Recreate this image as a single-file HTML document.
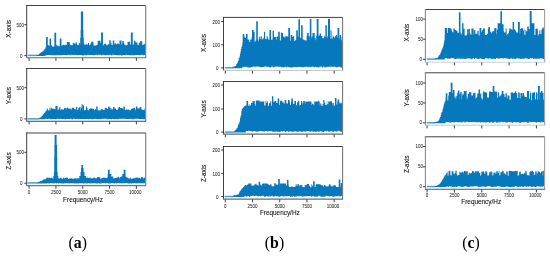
<!DOCTYPE html>
<html><head><meta charset="utf-8"><style>
html,body{margin:0;padding:0;background:#fff;}
body{width:550px;height:257px;overflow:hidden;}
svg{display:block;}
.tl,.tlc{font-family:"Liberation Sans",Arial,sans-serif;font-size:4.5px;fill:#2a2a2a;stroke:#2a2a2a;stroke-width:0.04px;}
.tlc{font-size:4.5px;}
.al{font-family:"Liberation Sans",Arial,sans-serif;font-size:6.4px;fill:#111;stroke:#111;stroke-width:0.08px;}
.cap{font-family:"Liberation Serif","Times New Roman",serif;font-size:15.8px;fill:#000;}
</style></head><body>
<svg width="550" height="257" viewBox="0 0 550 257">
<rect width="550" height="257" fill="#fff"/>
<clipPath id="caX"><rect x="26.7" y="5.5" width="119.00" height="52.20"/></clipPath>
<rect x="27.8" y="54.65" width="9.10" height="1.5" fill="#45a0d2"/>
<path clip-path="url(#caX)" fill="#0678BD" d="M36.50,54.90 L37.00,54.90 L37.00,54.79 L37.75,54.79 L37.75,54.90 L38.50,54.90 L38.50,54.19 L39.25,54.19 L39.25,53.79 L39.75,53.79 L39.75,53.19 L40.25,53.19 L40.25,52.92 L40.75,52.92 L40.75,52.45 L41.25,52.45 L41.25,52.11 L42.00,52.11 L42.00,51.59 L42.50,51.59 L42.50,51.46 L43.25,51.46 L43.25,50.38 L44.00,50.38 L44.00,49.60 L44.50,49.60 L44.50,49.22 L45.25,49.22 L45.25,47.82 L45.75,47.82 L45.75,47.05 L46.05,47.05 L46.05,37.10 L46.25,37.10 L46.25,37.10 L47.00,37.10 L47.00,37.10 L47.75,37.10 L47.75,45.21 L49.00,45.21 L49.00,45.72 L49.55,45.72 L49.55,38.50 L51.00,38.50 L51.00,38.50 L51.05,38.50 L51.05,45.24 L52.00,45.24 L52.00,46.56 L53.50,46.56 L53.50,46.48 L54.40,46.48 L54.40,32.70 L55.50,32.70 L55.50,32.70 L56.00,32.70 L56.00,32.70 L56.20,32.70 L56.20,45.29 L57.00,45.29 L57.00,46.13 L57.50,46.13 L57.50,45.20 L58.25,45.20 L58.25,45.96 L58.75,45.96 L58.75,46.25 L59.75,46.25 L59.75,38.50 L60.50,38.50 L60.50,38.50 L61.45,38.50 L61.45,45.40 L62.00,45.40 L62.00,45.29 L63.00,45.29 L63.00,44.86 L64.00,44.86 L64.00,44.96 L64.50,44.96 L64.50,45.20 L65.50,45.20 L65.50,44.57 L66.25,44.57 L66.25,44.90 L66.90,44.90 L66.90,42.00 L67.25,42.00 L67.25,42.00 L68.50,42.00 L68.50,42.00 L69.70,42.00 L69.70,42.66 L69.75,42.66 L69.75,44.35 L70.25,44.35 L70.25,44.99 L71.25,44.99 L71.25,45.23 L72.75,45.23 L72.75,42.70 L73.75,42.70 L73.75,43.49 L75.25,43.49 L75.25,44.35 L75.60,44.35 L75.60,42.20 L76.80,42.20 L76.80,44.35 L77.25,44.35 L77.25,44.98 L78.75,44.98 L78.75,43.18 L80.00,43.18 L80.00,44.26 L80.20,44.26 L80.20,38.00 L80.60,38.00 L80.60,30.00 L80.85,30.00 L80.85,11.60 L81.25,11.60 L81.25,11.60 L82.25,11.60 L82.25,11.60 L83.15,11.60 L83.15,30.00 L83.40,30.00 L83.40,38.00 L83.80,38.00 L83.80,43.55 L84.25,43.55 L84.25,44.65 L85.75,44.65 L85.75,44.32 L87.25,44.32 L87.25,44.71 L88.00,44.71 L88.00,42.91 L89.00,42.91 L89.00,45.42 L89.50,45.42 L89.50,44.67 L90.50,44.67 L90.50,43.31 L91.30,43.31 L91.30,41.80 L91.50,41.80 L91.50,41.80 L92.25,41.80 L92.25,41.80 L93.50,41.80 L93.50,45.61 L94.25,45.61 L94.25,45.51 L96.25,45.51 L96.25,44.94 L97.50,44.94 L97.50,44.17 L97.70,44.17 L97.70,40.80 L99.50,40.80 L99.50,40.80 L100.50,40.80 L100.50,42.89 L101.05,42.89 L101.05,32.40 L101.50,32.40 L101.50,32.40 L102.75,32.40 L102.75,32.40 L102.95,32.40 L102.95,45.49 L103.50,45.49 L103.50,44.51 L104.25,44.51 L104.25,43.80 L105.25,43.80 L105.25,43.74 L106.25,43.74 L106.25,45.27 L107.75,45.27 L107.75,44.37 L109.00,44.37 L109.00,44.02 L109.25,44.02 L109.25,40.20 L110.00,40.20 L110.00,40.20 L110.75,40.20 L110.75,43.66 L111.00,43.66 L111.00,42.75 L111.50,42.75 L111.50,45.09 L112.75,45.09 L112.75,40.50 L113.50,40.50 L113.50,40.50 L114.25,40.50 L114.25,44.55 L114.75,44.55 L114.75,43.10 L115.75,43.10 L115.75,44.22 L116.75,44.22 L116.75,43.44 L118.75,43.44 L118.75,44.37 L119.50,44.37 L119.50,40.50 L120.00,40.50 L120.00,40.50 L121.50,40.50 L121.50,44.48 L122.00,44.48 L122.00,43.38 L122.25,43.38 L122.25,41.00 L123.00,41.00 L123.00,41.00 L123.75,41.00 L123.75,43.12 L124.25,43.12 L124.25,44.81 L125.75,44.81 L125.75,45.42 L126.50,45.42 L126.50,45.01 L127.55,45.01 L127.55,41.80 L127.75,41.80 L127.75,41.80 L129.75,41.80 L129.75,41.80 L130.05,41.80 L130.05,44.48 L130.85,44.48 L130.85,32.40 L131.00,32.40 L131.00,32.40 L132.00,32.40 L132.00,32.40 L132.50,32.40 L132.50,32.40 L132.75,32.40 L132.75,44.61 L133.90,44.61 L133.90,40.80 L134.50,40.80 L134.50,40.80 L135.50,40.80 L135.50,42.52 L136.50,42.52 L136.50,42.48 L137.50,42.48 L137.50,45.09 L138.75,45.09 L138.75,43.06 L139.75,43.06 L139.75,41.30 L140.25,41.30 L140.25,41.30 L142.25,41.30 L142.25,45.04 L143.00,45.04 L143.00,44.42 L144.25,44.42 L144.25,43.63 L145.25,43.63 L145.25,45.26 L145.40,45.26 L145.40,55.14 L144.90,55.14 L144.90,55.02 L143.90,55.02 L143.90,55.14 L142.90,55.14 L142.90,55.07 L142.40,55.07 L142.40,54.86 L141.40,54.86 L141.40,55.30 L140.90,55.30 L140.90,55.17 L140.40,55.17 L140.40,54.86 L139.90,54.86 L139.90,55.30 L139.40,55.30 L139.40,54.91 L138.90,54.91 L138.90,55.05 L137.40,55.05 L137.40,55.07 L136.90,55.07 L136.90,54.94 L135.40,54.94 L135.40,55.31 L133.90,55.31 L133.90,55.35 L132.90,55.35 L132.90,55.28 L131.90,55.28 L131.90,55.35 L130.40,55.35 L130.40,55.13 L129.40,55.13 L129.40,55.09 L127.90,55.09 L127.90,54.92 L127.40,54.92 L127.40,54.82 L126.40,54.82 L126.40,55.27 L125.90,55.27 L125.90,55.24 L124.90,55.24 L124.90,55.07 L123.90,55.07 L123.90,55.04 L122.90,55.04 L122.90,55.35 L122.40,55.35 L122.40,55.38 L120.90,55.38 L120.90,54.95 L120.40,54.95 L120.40,55.27 L118.90,55.27 L118.90,55.32 L117.40,55.32 L117.40,55.20 L116.40,55.20 L116.40,54.91 L115.40,54.91 L115.40,54.98 L114.90,54.98 L114.90,55.02 L114.40,55.02 L114.40,54.85 L113.40,54.85 L113.40,54.85 L112.40,54.85 L112.40,55.19 L110.90,55.19 L110.90,55.03 L110.40,55.03 L110.40,54.82 L109.40,54.82 L109.40,54.99 L108.90,54.99 L108.90,55.34 L107.40,55.34 L107.40,54.95 L106.40,54.95 L106.40,55.13 L105.90,55.13 L105.90,55.28 L104.40,55.28 L104.40,54.95 L103.90,54.95 L103.90,55.28 L103.40,55.28 L103.40,54.84 L102.40,54.84 L102.40,55.32 L100.90,55.32 L100.90,54.85 L99.40,54.85 L99.40,54.81 L97.90,54.81 L97.90,55.10 L96.90,55.10 L96.90,54.86 L96.40,54.86 L96.40,54.85 L95.40,54.85 L95.40,54.90 L93.90,54.90 L93.90,55.39 L93.40,55.39 L93.40,54.98 L92.40,54.98 L92.40,55.11 L90.90,55.11 L90.90,54.98 L89.40,54.98 L89.40,54.89 L88.90,54.89 L88.90,54.82 L87.40,54.82 L87.40,55.29 L86.40,55.29 L86.40,55.28 L84.90,55.28 L84.90,55.30 L83.40,55.30 L83.40,55.39 L81.90,55.39 L81.90,54.91 L81.40,54.91 L81.40,55.12 L80.40,55.12 L80.40,55.23 L79.90,55.23 L79.90,54.95 L78.40,54.95 L78.40,55.21 L77.90,55.21 L77.90,55.28 L76.90,55.28 L76.90,54.95 L75.40,54.95 L75.40,55.31 L74.40,55.31 L74.40,54.81 L73.40,54.81 L73.40,54.90 L72.40,54.90 L72.40,54.81 L71.40,54.81 L71.40,55.36 L69.90,55.36 L69.90,54.81 L68.40,54.81 L68.40,55.01 L66.90,55.01 L66.90,55.16 L66.40,55.16 L66.40,54.96 L65.90,54.96 L65.90,55.04 L64.90,55.04 L64.90,54.90 L63.90,54.90 L63.90,54.94 L63.40,54.94 L63.40,54.91 L62.90,54.91 L62.90,55.10 L61.90,55.10 L61.90,55.35 L60.40,55.35 L60.40,55.18 L58.90,55.18 L58.90,54.94 L58.40,54.94 L58.40,55.21 L57.40,55.21 L57.40,55.23 L56.90,55.23 L56.90,55.14 L55.90,55.14 L55.90,55.35 L54.40,55.35 L54.40,55.38 L53.40,55.38 L53.40,54.83 L52.90,54.83 L52.90,55.26 L52.40,55.26 L52.40,55.33 L50.90,55.33 L50.90,55.11 L50.40,55.11 L50.40,54.99 L49.90,54.99 L49.90,54.98 L48.40,54.98 L48.40,55.02 L46.90,55.02 L46.90,55.22 L45.40,55.22 L45.40,55.90 L44.40,55.90 L44.40,55.90 L42.90,55.90 L42.90,55.90 L42.40,55.90 L42.40,55.90 L41.90,55.90 L41.90,55.90 L40.40,55.90 L40.40,55.90 L38.90,55.90 L38.90,55.90 L37.40,55.90 L37.40,55.90 L36.50,55.90Z"/>
<path d="M26.25,5.5H145.7" stroke="#2b2b2b" stroke-width="0.9" fill="none"/>
<path d="M26.7,5.05V57.7" stroke="#2b2b2b" stroke-width="0.9" fill="none"/>
<path d="M145.7,5.05V57.7" stroke="#7a7a7a" stroke-width="1.1" fill="none"/>
<path d="M26.25,57.7H146.20" stroke="#6a6a6a" stroke-width="1.1" fill="none"/>
<line x1="24.30" y1="55.4" x2="26.7" y2="55.4" stroke="#2b2b2b" stroke-width="0.9"/>
<text x="22.60" y="57.50" class="tl" text-anchor="end">0</text>
<line x1="24.30" y1="24.7" x2="26.7" y2="24.7" stroke="#2b2b2b" stroke-width="0.9"/>
<text x="24.00" y="26.80" class="tl" text-anchor="end">500</text>
<line x1="29.10" y1="58.00" x2="29.10" y2="60.90" stroke="#2b2b2b" stroke-width="0.9"/>
<line x1="55.92" y1="58.00" x2="55.92" y2="60.90" stroke="#2b2b2b" stroke-width="0.9"/>
<line x1="82.74" y1="58.00" x2="82.74" y2="60.90" stroke="#2b2b2b" stroke-width="0.9"/>
<line x1="109.56" y1="58.00" x2="109.56" y2="60.90" stroke="#2b2b2b" stroke-width="0.9"/>
<line x1="136.38" y1="58.00" x2="136.38" y2="60.90" stroke="#2b2b2b" stroke-width="0.9"/>
<text x="10.6" y="28.8" class="al" text-anchor="middle" transform="rotate(-90 10.6 28.8)">X-axis</text>
<clipPath id="caY"><rect x="26.7" y="68.5" width="119.00" height="52.70"/></clipPath>
<rect x="27.6" y="118.10" width="11.30" height="1.5" fill="#45a0d2"/>
<path clip-path="url(#caY)" fill="#0678BD" d="M38.50,118.35 L39.25,118.35 L39.25,117.81 L39.75,117.81 L39.75,117.65 L40.50,117.65 L40.50,117.31 L41.00,117.31 L41.00,116.73 L41.75,116.73 L41.75,115.98 L42.25,115.98 L42.25,115.74 L42.75,115.74 L42.75,114.38 L43.25,114.38 L43.25,113.89 L43.75,113.89 L43.75,113.55 L44.25,113.55 L44.25,112.94 L44.75,112.94 L44.75,112.37 L45.25,112.37 L45.25,111.73 L45.75,111.73 L45.75,110.79 L46.25,110.79 L46.25,110.55 L46.80,110.55 L46.80,108.60 L47.25,108.60 L47.25,108.60 L47.80,108.60 L47.80,110.23 L48.75,110.23 L48.75,110.63 L49.25,110.63 L49.25,108.10 L49.75,108.10 L49.75,110.58 L50.25,110.58 L50.25,109.68 L50.50,109.68 L50.50,107.60 L51.00,107.60 L51.00,107.60 L51.70,107.60 L51.70,108.48 L51.75,108.48 L51.75,108.69 L53.00,108.69 L53.00,108.80 L54.00,108.80 L54.00,109.07 L55.40,109.07 L55.40,105.90 L56.00,105.90 L56.00,105.90 L56.75,105.90 L56.75,105.90 L57.25,105.90 L57.25,105.90 L57.60,105.90 L57.60,109.73 L58.50,109.73 L58.50,108.95 L59.20,108.95 L59.20,107.00 L60.00,107.00 L60.00,107.00 L60.40,107.00 L60.40,110.36 L61.00,110.36 L61.00,109.32 L62.00,109.32 L62.00,109.43 L64.00,109.43 L64.00,108.99 L64.10,108.99 L64.10,108.00 L64.50,108.00 L64.50,108.00 L65.30,108.00 L65.30,108.16 L66.50,108.16 L66.50,109.54 L66.80,109.54 L66.80,107.80 L67.75,107.80 L67.75,107.80 L68.00,107.80 L68.00,108.69 L68.75,108.69 L68.75,107.98 L69.25,107.98 L69.25,108.81 L70.25,108.81 L70.25,108.31 L70.75,108.31 L70.75,109.40 L71.80,109.40 L71.80,107.80 L72.75,107.80 L72.75,107.80 L74.00,107.80 L74.00,109.00 L75.00,109.00 L75.00,109.27 L76.00,109.27 L76.00,110.23 L76.10,110.23 L76.10,106.80 L77.00,106.80 L77.00,106.80 L77.30,106.80 L77.30,109.91 L78.25,109.91 L78.25,107.89 L79.40,107.89 L79.40,107.00 L79.75,107.00 L79.75,107.00 L80.60,107.00 L80.60,110.58 L81.00,110.58 L81.00,107.91 L81.55,107.91 L81.55,104.60 L82.50,104.60 L82.50,104.60 L82.85,104.60 L82.85,110.47 L83.00,110.47 L83.00,105.50 L83.75,105.50 L83.75,105.50 L84.00,105.50 L84.00,110.35 L85.25,110.35 L85.25,109.96 L85.90,109.96 L85.90,106.50 L86.75,106.50 L86.75,106.50 L87.10,106.50 L87.10,107.94 L87.50,107.94 L87.50,109.95 L88.50,109.95 L88.50,110.40 L89.00,110.40 L89.00,108.92 L90.25,108.92 L90.25,108.33 L91.50,108.33 L91.50,108.56 L92.50,108.56 L92.50,108.63 L93.50,108.63 L93.50,109.08 L94.00,109.08 L94.00,110.17 L95.00,110.17 L95.00,109.42 L95.50,109.42 L95.50,109.12 L96.00,109.12 L96.00,109.90 L96.15,109.90 L96.15,106.50 L96.50,106.50 L96.50,106.50 L97.65,106.50 L97.65,110.54 L98.50,110.54 L98.50,109.92 L99.25,109.92 L99.25,110.52 L100.75,110.52 L100.75,109.23 L101.75,109.23 L101.75,109.02 L102.75,109.02 L102.75,109.96 L104.75,109.96 L104.75,107.76 L106.25,107.76 L106.25,108.21 L107.25,108.21 L107.25,109.07 L108.15,109.07 L108.15,106.50 L108.50,106.50 L108.50,106.50 L109.50,106.50 L109.50,106.50 L109.65,106.50 L109.65,107.83 L110.75,107.83 L110.75,110.03 L111.25,110.03 L111.25,108.61 L112.25,108.61 L112.25,109.48 L113.05,109.48 L113.05,107.00 L113.50,107.00 L113.50,107.00 L114.00,107.00 L114.00,107.00 L114.55,107.00 L114.55,108.75 L115.00,108.75 L115.00,108.51 L116.00,108.51 L116.00,109.64 L118.00,109.64 L118.00,108.51 L118.50,108.51 L118.50,110.24 L118.55,110.24 L118.55,107.00 L119.25,107.00 L119.25,107.00 L120.05,107.00 L120.05,108.04 L120.75,108.04 L120.75,108.08 L122.75,108.08 L122.75,109.19 L123.45,109.19 L123.45,106.50 L123.75,106.50 L123.75,106.50 L124.75,106.50 L124.75,106.50 L124.95,106.50 L124.95,109.91 L126.00,109.91 L126.00,108.69 L126.50,108.69 L126.50,109.68 L127.50,109.68 L127.50,109.61 L129.00,109.61 L129.00,110.30 L131.00,110.30 L131.00,109.04 L131.50,109.04 L131.50,108.79 L132.50,108.79 L132.50,108.35 L133.25,108.35 L133.25,108.23 L134.25,108.23 L134.25,107.81 L135.25,107.81 L135.25,110.15 L135.75,110.15 L135.75,108.63 L135.95,108.63 L135.95,106.50 L136.75,106.50 L136.75,106.50 L137.45,106.50 L137.45,108.56 L137.50,108.56 L137.50,108.39 L138.00,108.39 L138.00,108.62 L139.00,108.62 L139.00,108.13 L139.75,108.13 L139.75,107.00 L140.50,107.00 L140.50,107.00 L141.25,107.00 L141.25,108.34 L141.50,108.34 L141.50,109.41 L142.50,109.41 L142.50,110.07 L143.50,110.07 L143.50,109.67 L144.75,109.67 L144.75,107.82 L145.40,107.82 L145.40,119.18 L143.90,119.18 L143.90,119.20 L142.90,119.20 L142.90,118.94 L141.90,118.94 L141.90,118.99 L141.40,118.99 L141.40,119.03 L140.40,119.03 L140.40,119.11 L138.90,119.11 L138.90,119.05 L138.40,119.05 L138.40,118.76 L136.90,118.76 L136.90,118.81 L135.90,118.81 L135.90,118.79 L134.40,118.79 L134.40,119.24 L133.40,119.24 L133.40,119.25 L132.90,119.25 L132.90,119.29 L131.40,119.29 L131.40,118.72 L129.90,118.72 L129.90,118.93 L128.90,118.93 L128.90,119.10 L127.40,119.10 L127.40,118.90 L125.90,118.90 L125.90,119.01 L125.40,119.01 L125.40,118.79 L124.90,118.79 L124.90,118.76 L123.90,118.76 L123.90,118.85 L122.40,118.85 L122.40,118.85 L120.90,118.85 L120.90,118.98 L120.40,118.98 L120.40,118.84 L118.90,118.84 L118.90,119.17 L117.90,119.17 L117.90,119.14 L116.40,119.14 L116.40,118.96 L115.40,118.96 L115.40,119.19 L114.90,119.19 L114.90,119.23 L113.90,119.23 L113.90,118.94 L113.40,118.94 L113.40,118.99 L112.90,118.99 L112.90,118.85 L111.90,118.85 L111.90,119.26 L110.40,119.26 L110.40,119.09 L108.90,119.09 L108.90,119.28 L107.90,119.28 L107.90,119.13 L106.90,119.13 L106.90,118.75 L105.40,118.75 L105.40,118.83 L103.90,118.83 L103.90,118.81 L102.40,118.81 L102.40,118.93 L100.90,118.93 L100.90,119.25 L99.40,119.25 L99.40,118.98 L98.40,118.98 L98.40,119.24 L96.90,119.24 L96.90,119.09 L95.90,119.09 L95.90,118.71 L95.40,118.71 L95.40,119.14 L94.90,119.14 L94.90,118.93 L93.40,118.93 L93.40,119.23 L92.90,119.23 L92.90,118.93 L92.40,118.93 L92.40,119.16 L90.90,119.16 L90.90,118.86 L90.40,118.86 L90.40,119.05 L88.90,119.05 L88.90,119.18 L87.90,119.18 L87.90,118.71 L87.40,118.71 L87.40,118.96 L85.90,118.96 L85.90,119.01 L84.90,119.01 L84.90,118.98 L84.40,118.98 L84.40,119.28 L83.90,119.28 L83.90,118.91 L83.40,118.91 L83.40,119.02 L82.40,119.02 L82.40,119.10 L80.90,119.10 L80.90,118.99 L79.40,118.99 L79.40,119.25 L77.90,119.25 L77.90,118.86 L76.90,118.86 L76.90,118.98 L75.40,118.98 L75.40,119.07 L74.90,119.07 L74.90,118.80 L73.90,118.80 L73.90,118.85 L72.90,118.85 L72.90,119.17 L71.40,119.17 L71.40,118.78 L69.90,118.78 L69.90,119.00 L69.40,119.00 L69.40,119.11 L68.40,119.11 L68.40,118.71 L67.90,118.71 L67.90,118.98 L66.40,118.98 L66.40,118.92 L65.90,118.92 L65.90,119.21 L64.40,119.21 L64.40,118.97 L62.90,118.97 L62.90,118.89 L61.40,118.89 L61.40,118.78 L59.90,118.78 L59.90,119.02 L58.40,119.02 L58.40,118.75 L57.40,118.75 L57.40,118.88 L56.40,118.88 L56.40,119.27 L54.90,119.27 L54.90,119.09 L53.90,119.09 L53.90,119.01 L52.90,119.01 L52.90,119.01 L52.40,119.01 L52.40,118.93 L51.90,118.93 L51.90,119.21 L50.40,119.21 L50.40,119.18 L49.90,119.18 L49.90,118.75 L48.40,118.75 L48.40,118.84 L47.90,118.84 L47.90,119.04 L46.90,119.04 L46.90,118.87 L45.40,118.87 L45.40,119.35 L44.90,119.35 L44.90,119.35 L44.40,119.35 L44.40,119.35 L42.90,119.35 L42.90,119.35 L41.90,119.35 L41.90,119.35 L40.90,119.35 L40.90,119.35 L40.40,119.35 L40.40,119.35 L39.40,119.35 L39.40,119.35 L38.50,119.35Z"/>
<path d="M26.25,68.5H145.7" stroke="#2b2b2b" stroke-width="0.9" fill="none"/>
<path d="M26.7,68.05V121.2" stroke="#2b2b2b" stroke-width="0.9" fill="none"/>
<path d="M145.7,68.05V121.2" stroke="#7a7a7a" stroke-width="1.1" fill="none"/>
<path d="M26.25,121.2H146.20" stroke="#444" stroke-width="1.1" fill="none"/>
<line x1="24.30" y1="118.9" x2="26.7" y2="118.9" stroke="#2b2b2b" stroke-width="0.9"/>
<text x="22.60" y="121.00" class="tl" text-anchor="end">0</text>
<line x1="24.30" y1="87.7" x2="26.7" y2="87.7" stroke="#2b2b2b" stroke-width="0.9"/>
<text x="24.00" y="89.80" class="tl" text-anchor="end">500</text>
<line x1="29.10" y1="121.50" x2="29.10" y2="124.40" stroke="#2b2b2b" stroke-width="0.9"/>
<line x1="55.92" y1="121.50" x2="55.92" y2="124.40" stroke="#2b2b2b" stroke-width="0.9"/>
<line x1="82.74" y1="121.50" x2="82.74" y2="124.40" stroke="#2b2b2b" stroke-width="0.9"/>
<line x1="109.56" y1="121.50" x2="109.56" y2="124.40" stroke="#2b2b2b" stroke-width="0.9"/>
<line x1="136.38" y1="121.50" x2="136.38" y2="124.40" stroke="#2b2b2b" stroke-width="0.9"/>
<text x="10.7" y="95.6" class="al" text-anchor="middle" transform="rotate(-90 10.7 95.6)">Y-axis</text>
<clipPath id="caZ"><rect x="26.7" y="133.0" width="119.00" height="52.60"/></clipPath>
<rect x="27.6" y="182.15" width="10.30" height="1.5" fill="#45a0d2"/>
<path clip-path="url(#caZ)" fill="#0678BD" d="M37.50,182.40 L38.00,182.40 L38.00,182.11 L38.50,182.11 L38.50,181.76 L39.25,181.76 L39.25,181.64 L40.00,181.64 L40.00,181.35 L40.50,181.35 L40.50,181.02 L41.00,181.02 L41.00,180.69 L41.50,180.69 L41.50,181.11 L42.25,181.11 L42.25,180.01 L43.00,180.01 L43.00,179.33 L43.50,179.33 L43.50,179.66 L44.25,179.66 L44.25,178.94 L44.75,178.94 L44.75,179.28 L45.50,179.28 L45.50,178.68 L46.25,178.68 L46.25,177.68 L47.50,177.68 L47.50,177.60 L48.00,177.60 L48.00,177.73 L50.00,177.73 L50.00,177.98 L51.00,177.98 L51.00,177.69 L52.50,177.69 L52.50,178.56 L53.30,178.56 L53.30,176.00 L53.50,176.00 L53.50,176.00 L53.90,176.00 L53.90,172.00 L54.20,172.00 L54.20,156.70 L54.40,156.70 L54.40,145.00 L54.50,145.00 L54.50,145.00 L54.60,145.00 L54.60,134.90 L55.75,134.90 L55.75,134.90 L56.60,134.90 L56.60,145.00 L57.00,145.00 L57.00,156.70 L57.20,156.70 L57.20,172.00 L57.70,172.00 L57.70,176.00 L57.75,176.00 L57.75,176.00 L58.30,176.00 L58.30,178.16 L59.00,178.16 L59.00,178.38 L60.00,178.38 L60.00,177.72 L61.50,177.72 L61.50,178.78 L63.00,178.78 L63.00,177.69 L64.00,177.69 L64.00,178.29 L65.00,178.29 L65.00,177.72 L66.00,177.72 L66.00,177.44 L66.50,177.44 L66.50,177.76 L68.00,177.76 L68.00,179.01 L69.00,179.01 L69.00,178.50 L70.00,178.50 L70.00,178.40 L71.25,178.40 L71.25,178.35 L72.25,178.35 L72.25,178.64 L74.25,178.64 L74.25,178.23 L75.50,178.23 L75.50,178.46 L77.50,178.46 L77.50,178.21 L79.35,178.21 L79.35,176.00 L79.50,176.00 L79.50,176.00 L80.50,176.00 L80.50,172.00 L80.75,172.00 L80.75,172.00 L81.00,172.00 L81.00,168.00 L81.40,168.00 L81.40,165.10 L81.50,165.10 L81.50,165.10 L82.25,165.10 L82.25,165.10 L83.00,165.10 L83.00,168.00 L83.25,168.00 L83.25,168.00 L83.60,168.00 L83.60,172.00 L84.00,172.00 L84.00,172.00 L84.50,172.00 L84.50,176.00 L85.50,176.00 L85.50,176.00 L85.85,176.00 L85.85,177.49 L86.00,177.49 L86.00,177.70 L87.00,177.70 L87.00,177.53 L87.75,177.53 L87.75,178.05 L89.75,178.05 L89.75,176.90 L90.25,176.90 L90.25,178.27 L91.75,178.27 L91.75,178.53 L93.00,178.53 L93.00,178.01 L93.75,178.01 L93.75,177.27 L94.25,177.27 L94.25,177.84 L95.00,177.84 L95.00,178.31 L97.00,178.31 L97.00,177.15 L97.75,177.15 L97.75,177.10 L98.75,177.10 L98.75,177.22 L100.25,177.22 L100.25,178.80 L101.50,178.80 L101.50,178.23 L102.25,178.23 L102.25,178.06 L103.50,178.06 L103.50,177.24 L104.50,177.24 L104.50,177.96 L106.00,177.96 L106.00,178.06 L107.00,178.06 L107.00,177.73 L107.50,177.73 L107.50,176.95 L107.70,176.95 L107.70,174.00 L107.75,174.00 L107.75,174.00 L107.90,174.00 L107.90,169.80 L108.25,169.80 L108.25,169.80 L109.25,169.80 L109.25,169.80 L109.70,169.80 L109.70,174.00 L110.50,174.00 L110.50,174.00 L111.30,174.00 L111.30,176.50 L111.50,176.50 L111.50,176.50 L113.00,176.50 L113.00,176.50 L113.25,176.50 L113.25,178.48 L114.50,178.48 L114.50,177.96 L116.50,177.96 L116.50,177.50 L117.75,177.50 L117.75,176.84 L119.00,176.84 L119.00,178.20 L119.75,178.20 L119.75,177.06 L121.00,177.06 L121.00,176.50 L121.75,176.50 L121.75,176.50 L122.25,176.50 L122.25,174.00 L122.75,174.00 L122.75,174.00 L123.50,174.00 L123.50,174.00 L123.70,174.00 L123.70,169.80 L125.50,169.80 L125.50,174.00 L125.55,174.00 L125.55,176.50 L126.00,176.50 L126.00,177.41 L126.25,177.41 L126.25,176.97 L127.25,176.97 L127.25,177.67 L127.75,177.67 L127.75,177.88 L128.25,177.88 L128.25,178.56 L129.25,178.56 L129.25,178.41 L129.75,178.41 L129.75,177.78 L130.75,177.78 L130.75,178.81 L132.00,178.81 L132.00,178.68 L132.75,178.68 L132.75,178.37 L134.75,178.37 L134.75,177.73 L136.75,177.73 L136.75,177.20 L137.75,177.20 L137.75,178.43 L138.25,178.43 L138.25,177.74 L140.25,177.74 L140.25,178.65 L141.00,178.65 L141.00,177.17 L143.00,177.17 L143.00,178.62 L143.50,178.62 L143.50,177.83 L144.75,177.83 L144.75,177.00 L145.25,177.00 L145.25,177.24 L145.40,177.24 L145.40,183.37 L144.40,183.37 L144.40,183.25 L142.90,183.25 L142.90,183.19 L141.90,183.19 L141.90,183.51 L141.40,183.51 L141.40,183.03 L140.90,183.03 L140.90,183.04 L140.40,183.04 L140.40,183.51 L139.90,183.51 L139.90,183.31 L139.40,183.31 L139.40,183.19 L138.40,183.19 L138.40,183.04 L137.40,183.04 L137.40,183.39 L136.40,183.39 L136.40,183.18 L134.90,183.18 L134.90,183.11 L133.90,183.11 L133.90,183.26 L132.90,183.26 L132.90,183.33 L132.40,183.33 L132.40,183.43 L130.90,183.43 L130.90,183.34 L130.40,183.34 L130.40,183.22 L129.90,183.22 L129.90,183.39 L128.40,183.39 L128.40,183.23 L126.90,183.23 L126.90,183.37 L126.40,183.37 L126.40,183.03 L125.40,183.03 L125.40,183.30 L123.90,183.30 L123.90,183.19 L122.40,183.19 L122.40,183.25 L120.90,183.25 L120.90,183.15 L120.40,183.15 L120.40,183.16 L118.90,183.16 L118.90,183.04 L117.40,183.04 L117.40,183.13 L116.40,183.13 L116.40,183.53 L115.90,183.53 L115.90,183.22 L114.90,183.22 L114.90,183.47 L113.40,183.47 L113.40,183.07 L112.40,183.07 L112.40,183.07 L110.90,183.07 L110.90,183.40 L109.40,183.40 L109.40,183.48 L107.90,183.48 L107.90,183.07 L106.40,183.07 L106.40,183.34 L105.40,183.34 L105.40,183.49 L104.90,183.49 L104.90,183.00 L103.40,183.00 L103.40,183.14 L102.90,183.14 L102.90,183.03 L101.90,183.03 L101.90,183.34 L101.40,183.34 L101.40,183.53 L99.90,183.53 L99.90,183.49 L99.40,183.49 L99.40,183.50 L98.40,183.50 L98.40,183.02 L97.90,183.02 L97.90,183.40 L97.40,183.40 L97.40,183.57 L95.90,183.57 L95.90,183.18 L94.40,183.18 L94.40,183.02 L93.90,183.02 L93.90,183.31 L92.40,183.31 L92.40,183.14 L90.90,183.14 L90.90,183.45 L89.40,183.45 L89.40,183.04 L87.90,183.04 L87.90,183.52 L86.90,183.52 L86.90,183.50 L86.40,183.50 L86.40,183.60 L85.90,183.60 L85.90,183.15 L84.40,183.15 L84.40,183.42 L82.90,183.42 L82.90,183.15 L81.90,183.15 L81.90,183.24 L80.40,183.24 L80.40,183.33 L79.40,183.33 L79.40,183.23 L78.90,183.23 L78.90,183.58 L78.40,183.58 L78.40,183.51 L77.40,183.51 L77.40,183.25 L76.90,183.25 L76.90,183.45 L75.40,183.45 L75.40,183.55 L73.90,183.55 L73.90,183.29 L72.40,183.29 L72.40,183.24 L70.90,183.24 L70.90,183.10 L70.40,183.10 L70.40,183.45 L69.40,183.45 L69.40,183.31 L67.90,183.31 L67.90,183.35 L66.90,183.35 L66.90,183.08 L66.40,183.08 L66.40,183.09 L65.90,183.09 L65.90,183.19 L64.40,183.19 L64.40,183.51 L63.90,183.51 L63.90,183.57 L62.40,183.57 L62.40,183.40 L61.40,183.40 L61.40,183.36 L60.40,183.36 L60.40,183.35 L58.90,183.35 L58.90,183.53 L57.90,183.53 L57.90,183.01 L56.90,183.01 L56.90,183.48 L55.90,183.48 L55.90,183.10 L55.40,183.10 L55.40,183.14 L54.40,183.14 L54.40,183.46 L53.40,183.46 L53.40,183.25 L52.90,183.25 L52.90,183.29 L51.40,183.29 L51.40,183.12 L49.90,183.12 L49.90,183.50 L48.40,183.50 L48.40,183.33 L46.90,183.33 L46.90,183.60 L45.90,183.60 L45.90,183.40 L45.40,183.40 L45.40,183.40 L44.40,183.40 L44.40,183.40 L42.90,183.40 L42.90,183.40 L42.40,183.40 L42.40,183.40 L41.40,183.40 L41.40,183.40 L40.90,183.40 L40.90,183.40 L40.40,183.40 L40.40,183.40 L38.90,183.40 L38.90,183.40 L37.50,183.40Z"/>
<path d="M26.25,133.0H145.7" stroke="#2b2b2b" stroke-width="0.9" fill="none"/>
<path d="M26.7,132.55V185.6" stroke="#2b2b2b" stroke-width="0.9" fill="none"/>
<path d="M145.7,132.55V185.6" stroke="#7a7a7a" stroke-width="1.1" fill="none"/>
<path d="M26.25,185.6H146.20" stroke="#7a7a7a" stroke-width="1.1" fill="none"/>
<line x1="24.30" y1="183.2" x2="26.7" y2="183.2" stroke="#2b2b2b" stroke-width="0.9"/>
<text x="22.60" y="185.30" class="tl" text-anchor="end">0</text>
<line x1="24.30" y1="152.3" x2="26.7" y2="152.3" stroke="#2b2b2b" stroke-width="0.9"/>
<text x="24.00" y="154.40" class="tl" text-anchor="end">500</text>
<line x1="29.10" y1="185.90" x2="29.10" y2="188.80" stroke="#2b2b2b" stroke-width="0.9"/>
<text x="29.10" y="194.00" class="tl" text-anchor="middle">0</text>
<line x1="55.92" y1="185.90" x2="55.92" y2="188.80" stroke="#2b2b2b" stroke-width="0.9"/>
<text x="55.92" y="194.00" class="tl" text-anchor="middle">2500</text>
<line x1="82.74" y1="185.90" x2="82.74" y2="188.80" stroke="#2b2b2b" stroke-width="0.9"/>
<text x="82.74" y="194.00" class="tl" text-anchor="middle">5000</text>
<line x1="109.56" y1="185.90" x2="109.56" y2="188.80" stroke="#2b2b2b" stroke-width="0.9"/>
<text x="109.56" y="194.00" class="tl" text-anchor="middle">7500</text>
<line x1="136.38" y1="185.90" x2="136.38" y2="188.80" stroke="#2b2b2b" stroke-width="0.9"/>
<text x="135.18" y="194.00" class="tl" text-anchor="middle">10000</text>
<text x="10.8" y="161.0" class="al" text-anchor="middle" transform="rotate(-90 10.8 161.0)">Z-axis</text>
<text x="83.0" y="201.6" class="al" text-anchor="middle">Frequency/Hz</text>
<clipPath id="cbX"><rect x="223.5" y="17.4" width="119.10" height="53.10"/></clipPath>
<rect x="224.7" y="67.05" width="8.10" height="1.5" fill="#45a0d2"/>
<path clip-path="url(#cbX)" fill="#0678BD" d="M232.40,66.81 L233.15,66.81 L233.15,66.72 L233.65,66.72 L233.65,66.86 L234.40,66.86 L234.40,66.59 L234.90,66.59 L234.90,65.91 L235.40,65.91 L235.40,66.07 L236.15,66.07 L236.15,64.33 L236.90,64.33 L236.90,63.58 L237.40,63.58 L237.40,62.62 L237.90,62.62 L237.90,61.11 L238.65,61.11 L238.65,58.36 L239.40,58.36 L239.40,56.43 L239.90,56.43 L239.90,54.00 L240.40,54.00 L240.40,51.61 L240.90,51.61 L240.90,48.99 L241.40,48.99 L241.40,46.90 L241.90,46.90 L241.90,45.29 L242.40,45.29 L242.40,42.14 L242.70,42.14 L242.70,34.00 L243.15,34.00 L243.15,34.00 L244.15,34.00 L244.15,34.00 L244.30,34.00 L244.30,36.48 L244.65,36.48 L244.65,37.41 L245.65,37.41 L245.65,37.75 L246.00,37.75 L246.00,34.00 L246.65,34.00 L246.65,34.00 L247.40,34.00 L247.40,34.00 L247.60,34.00 L247.60,39.43 L248.15,39.43 L248.15,39.40 L248.15,39.40 L248.15,39.40 L249.15,39.40 L249.15,39.40 L249.25,39.40 L249.25,41.94 L250.15,41.94 L250.15,39.57 L251.65,39.57 L251.65,36.97 L252.00,36.97 L252.00,30.00 L253.55,30.00 L253.55,30.00 L253.60,30.00 L253.60,31.80 L253.65,31.80 L253.65,31.80 L254.40,31.80 L254.40,31.80 L254.65,31.80 L254.65,41.87 L255.40,41.87 L255.40,40.57 L256.20,40.57 L256.20,21.20 L256.65,21.20 L256.65,21.20 L257.40,21.20 L257.40,21.20 L257.80,21.20 L257.80,39.59 L258.40,39.59 L258.40,41.16 L258.90,41.16 L258.90,36.83 L259.90,36.83 L259.90,38.69 L260.65,38.69 L260.65,36.20 L261.15,36.20 L261.15,36.20 L261.75,36.20 L261.75,39.60 L262.65,39.60 L262.65,38.13 L263.95,38.13 L263.95,31.80 L264.65,31.80 L264.65,31.80 L265.05,31.80 L265.05,37.73 L265.15,37.73 L265.15,39.00 L265.65,39.00 L265.65,39.36 L266.65,39.36 L266.65,36.20 L267.65,36.20 L267.65,36.20 L267.75,36.20 L267.75,38.50 L268.40,38.50 L268.40,39.84 L269.40,39.84 L269.40,30.00 L269.90,30.00 L269.90,30.00 L271.00,30.00 L271.00,39.04 L271.40,39.04 L271.40,39.91 L272.40,39.91 L272.40,38.67 L272.60,38.67 L272.60,30.70 L273.90,30.70 L273.90,30.70 L274.00,30.70 L274.00,37.08 L275.15,37.08 L275.15,36.70 L275.90,36.70 L275.90,36.70 L276.45,36.70 L276.45,40.09 L276.90,40.09 L276.90,36.14 L277.40,36.14 L277.40,36.69 L278.20,36.69 L278.20,31.80 L278.40,31.80 L278.40,31.80 L279.80,31.80 L279.80,36.08 L279.90,36.08 L279.90,40.45 L280.85,40.45 L280.85,32.40 L280.90,32.40 L280.90,32.40 L281.65,32.40 L281.65,32.40 L281.95,32.40 L281.95,37.14 L282.00,37.14 L282.00,32.90 L282.65,32.90 L282.65,32.90 L283.00,32.90 L283.00,37.69 L283.15,37.69 L283.15,36.52 L284.65,36.52 L284.65,37.83 L285.30,37.83 L285.30,36.20 L285.90,36.20 L285.90,36.20 L286.90,36.20 L286.90,36.13 L286.90,36.13 L286.90,36.13 L287.65,36.13 L287.65,36.85 L288.30,36.85 L288.30,28.00 L288.40,28.00 L288.40,28.00 L288.90,28.00 L288.90,28.00 L289.90,28.00 L289.90,28.00 L290.10,28.00 L290.10,40.67 L290.70,40.67 L290.70,35.10 L291.90,35.10 L291.90,35.10 L292.30,35.10 L292.30,36.94 L292.90,36.94 L292.90,36.31 L294.15,36.31 L294.15,40.94 L294.90,40.94 L294.90,40.31 L296.15,40.31 L296.15,39.33 L296.20,39.33 L296.20,30.20 L297.40,30.20 L297.40,30.20 L297.80,30.20 L297.80,36.82 L298.40,36.82 L298.40,19.30 L299.40,19.30 L299.40,19.30 L299.90,19.30 L299.90,19.30 L300.00,19.30 L300.00,37.21 L300.40,37.21 L300.40,38.36 L301.10,38.36 L301.10,25.30 L302.40,25.30 L302.40,25.30 L302.70,25.30 L302.70,39.62 L304.40,39.62 L304.40,40.24 L305.40,40.24 L305.40,40.55 L306.65,40.55 L306.65,35.92 L307.10,35.92 L307.10,32.90 L307.65,32.90 L307.65,32.90 L308.70,32.90 L308.70,36.28 L309.65,36.28 L309.65,40.49 L309.80,40.49 L309.80,19.00 L310.90,19.00 L310.90,19.00 L311.40,19.00 L311.40,38.35 L311.65,38.35 L311.65,36.49 L312.50,36.49 L312.50,32.90 L312.65,32.90 L312.65,32.90 L314.65,32.90 L314.65,32.90 L314.70,32.90 L314.70,38.10 L315.65,38.10 L315.65,40.24 L316.15,40.24 L316.15,35.70 L316.70,35.70 L316.70,19.00 L318.15,19.00 L318.15,19.00 L318.50,19.00 L318.50,35.83 L319.40,35.83 L319.40,35.18 L319.60,35.18 L319.60,33.40 L320.40,33.40 L320.40,33.40 L321.00,33.40 L321.00,35.94 L322.40,35.94 L322.40,38.18 L323.90,38.18 L323.90,35.75 L324.65,35.75 L324.65,37.08 L325.35,37.08 L325.35,25.30 L326.65,25.30 L326.65,25.30 L326.85,25.30 L326.85,37.91 L327.15,37.91 L327.15,36.15 L327.90,36.15 L327.90,38.47 L328.00,38.47 L328.00,19.00 L328.65,19.00 L328.65,19.00 L329.40,19.00 L329.40,19.00 L330.00,19.00 L330.00,38.69 L330.45,38.69 L330.45,30.20 L331.40,30.20 L331.40,30.20 L331.55,30.20 L331.55,38.58 L332.65,38.58 L332.65,35.10 L333.15,35.10 L333.15,36.52 L333.65,36.52 L333.65,36.85 L334.15,36.85 L334.15,37.41 L335.15,37.41 L335.15,36.08 L335.95,36.08 L335.95,35.10 L336.40,35.10 L336.40,35.10 L336.90,35.10 L336.90,35.10 L337.05,35.10 L337.05,37.49 L337.55,37.49 L337.55,28.00 L337.90,28.00 L337.90,28.00 L338.90,28.00 L338.90,28.00 L339.25,28.00 L339.25,39.03 L339.65,39.03 L339.65,34.92 L341.15,34.92 L341.15,40.21 L341.65,40.21 L341.65,36.92 L342.30,36.92 L342.30,67.45 L340.80,67.45 L340.80,67.31 L339.80,67.31 L339.80,66.79 L338.30,66.79 L338.30,67.32 L336.80,67.32 L336.80,67.13 L335.30,67.13 L335.30,66.60 L334.30,66.60 L334.30,66.85 L332.80,66.85 L332.80,66.82 L331.30,66.82 L331.30,66.54 L330.30,66.54 L330.30,67.19 L329.80,67.19 L329.80,66.65 L328.30,66.65 L328.30,66.67 L327.30,66.67 L327.30,67.19 L326.30,67.19 L326.30,66.53 L325.80,66.53 L325.80,67.48 L324.30,67.48 L324.30,66.81 L323.80,66.81 L323.80,66.81 L322.80,66.81 L322.80,67.42 L321.80,67.42 L321.80,66.47 L320.30,66.47 L320.30,67.33 L319.80,67.33 L319.80,66.62 L319.30,66.62 L319.30,67.54 L317.80,67.54 L317.80,67.08 L316.30,67.08 L316.30,67.29 L315.80,67.29 L315.80,66.64 L315.30,66.64 L315.30,67.19 L314.30,67.19 L314.30,66.69 L312.80,66.69 L312.80,66.78 L311.30,66.78 L311.30,66.90 L309.80,66.90 L309.80,66.71 L308.30,66.71 L308.30,67.22 L307.30,67.22 L307.30,66.85 L306.30,66.85 L306.30,66.81 L304.80,66.81 L304.80,67.03 L303.30,67.03 L303.30,67.44 L302.30,67.44 L302.30,67.01 L301.30,67.01 L301.30,66.76 L300.30,66.76 L300.30,67.10 L299.30,67.10 L299.30,66.65 L298.30,66.65 L298.30,66.95 L296.80,66.95 L296.80,67.13 L295.30,67.13 L295.30,66.89 L294.30,66.89 L294.30,67.14 L293.30,67.14 L293.30,67.01 L292.80,67.01 L292.80,67.52 L291.80,67.52 L291.80,67.46 L290.30,67.46 L290.30,67.33 L288.80,67.33 L288.80,67.28 L288.30,67.28 L288.30,66.69 L287.30,66.69 L287.30,67.43 L286.30,67.43 L286.30,66.61 L285.80,66.61 L285.80,66.53 L285.30,66.53 L285.30,67.49 L284.80,67.49 L284.80,66.89 L284.30,66.89 L284.30,67.20 L282.80,67.20 L282.80,67.23 L281.30,67.23 L281.30,66.74 L279.80,66.74 L279.80,66.72 L278.30,66.72 L278.30,66.68 L277.80,66.68 L277.80,66.54 L276.80,66.54 L276.80,66.52 L275.80,66.52 L275.80,66.77 L274.30,66.77 L274.30,67.22 L272.80,67.22 L272.80,66.61 L271.30,66.61 L271.30,67.50 L270.30,67.50 L270.30,67.24 L268.80,67.24 L268.80,66.85 L267.30,66.85 L267.30,67.25 L266.80,67.25 L266.80,66.62 L265.30,66.62 L265.30,66.62 L264.30,66.62 L264.30,66.98 L263.30,66.98 L263.30,66.86 L262.80,66.86 L262.80,67.41 L262.30,67.41 L262.30,67.02 L261.30,67.02 L261.30,67.20 L259.80,67.20 L259.80,66.81 L258.80,66.81 L258.80,66.52 L257.80,66.52 L257.80,66.76 L257.30,66.76 L257.30,66.47 L255.80,66.47 L255.80,66.54 L255.30,66.54 L255.30,67.38 L254.80,67.38 L254.80,66.71 L254.30,66.71 L254.30,66.46 L252.80,66.46 L252.80,67.04 L251.30,67.04 L251.30,67.55 L250.30,67.55 L250.30,67.41 L248.80,67.41 L248.80,67.48 L247.30,67.48 L247.30,66.82 L246.30,66.82 L246.30,67.37 L245.80,67.37 L245.80,66.66 L244.30,66.66 L244.30,67.13 L243.30,67.13 L243.30,66.79 L242.30,66.79 L242.30,68.30 L240.80,68.30 L240.80,68.30 L239.80,68.30 L239.80,68.30 L238.30,68.30 L238.30,68.30 L236.80,68.30 L236.80,68.30 L236.30,68.30 L236.30,68.30 L234.80,68.30 L234.80,68.30 L234.30,68.30 L234.30,68.30 L233.30,68.30 L233.30,68.30 L232.40,68.30Z"/>
<path d="M223.05,17.4H342.6" stroke="#2b2b2b" stroke-width="0.9" fill="none"/>
<path d="M223.5,16.95V70.5" stroke="#2b2b2b" stroke-width="0.9" fill="none"/>
<path d="M342.6,16.95V70.5" stroke="#777777" stroke-width="1.1" fill="none"/>
<path d="M223.05,70.5H343.10" stroke="#c4c4c4" stroke-width="1.0" fill="none"/>
<line x1="221.10" y1="67.9" x2="223.5" y2="67.9" stroke="#2b2b2b" stroke-width="0.9"/>
<text x="218.60" y="70.00" class="tl" text-anchor="end">0</text>
<line x1="221.10" y1="44.8" x2="223.5" y2="44.8" stroke="#2b2b2b" stroke-width="0.9"/>
<text x="220.00" y="46.90" class="tl" text-anchor="end">100</text>
<line x1="221.10" y1="21.5" x2="223.5" y2="21.5" stroke="#2b2b2b" stroke-width="0.9"/>
<text x="220.00" y="23.60" class="tl" text-anchor="end">200</text>
<line x1="225.30" y1="70.80" x2="225.30" y2="73.70" stroke="#2b2b2b" stroke-width="0.9"/>
<line x1="252.52" y1="70.80" x2="252.52" y2="73.70" stroke="#2b2b2b" stroke-width="0.9"/>
<line x1="279.74" y1="70.80" x2="279.74" y2="73.70" stroke="#2b2b2b" stroke-width="0.9"/>
<line x1="306.96" y1="70.80" x2="306.96" y2="73.70" stroke="#2b2b2b" stroke-width="0.9"/>
<line x1="334.18" y1="70.80" x2="334.18" y2="73.70" stroke="#2b2b2b" stroke-width="0.9"/>
<text x="206.4" y="43.0" class="al" text-anchor="middle" transform="rotate(-90 206.4 43.0)">X-axis</text>
<clipPath id="cbY"><rect x="223.5" y="81.5" width="119.10" height="52.60"/></clipPath>
<rect x="224.7" y="131.35" width="9.70" height="1.5" fill="#45a0d2"/>
<path clip-path="url(#cbY)" fill="#0678BD" d="M234.00,131.60 L234.75,131.60 L234.75,130.30 L235.50,130.30 L235.50,129.76 L236.25,129.76 L236.25,128.69 L236.75,128.69 L236.75,127.89 L237.50,127.89 L237.50,126.82 L238.00,126.82 L238.00,125.05 L238.50,125.05 L238.50,123.44 L239.25,123.44 L239.25,121.86 L240.00,121.86 L240.00,118.09 L240.50,118.09 L240.50,115.76 L241.25,115.76 L241.25,111.31 L241.75,111.31 L241.75,108.93 L242.50,108.93 L242.50,108.15 L243.00,108.15 L243.00,107.51 L243.50,107.51 L243.50,107.31 L244.25,107.31 L244.25,105.88 L245.00,105.88 L245.00,105.76 L245.75,105.76 L245.75,104.87 L246.25,104.87 L246.25,105.89 L246.50,105.89 L246.50,101.10 L247.75,101.10 L247.75,101.10 L248.10,101.10 L248.10,106.02 L248.75,106.02 L248.75,104.33 L249.50,104.33 L249.50,105.47 L251.00,105.47 L251.00,103.04 L251.75,103.04 L251.75,102.67 L252.50,102.67 L252.50,101.10 L253.75,101.10 L253.75,101.10 L254.50,101.10 L254.50,101.10 L254.70,101.10 L254.70,103.77 L255.25,103.77 L255.25,105.87 L255.80,105.87 L255.80,100.50 L256.25,100.50 L256.25,100.50 L257.25,100.50 L257.25,100.50 L258.50,100.50 L258.50,100.50 L259.60,100.50 L259.60,101.43 L259.75,101.43 L259.75,101.60 L260.75,101.60 L260.75,101.60 L261.75,101.60 L261.75,101.60 L262.75,101.60 L262.75,101.60 L263.50,101.60 L263.50,101.60 L264.25,101.60 L264.25,105.57 L265.50,105.57 L265.50,100.67 L266.25,100.67 L266.25,102.69 L267.25,102.69 L267.25,101.34 L268.00,101.34 L268.00,105.70 L269.00,105.70 L269.00,103.31 L270.25,103.31 L270.25,101.34 L271.25,101.34 L271.25,105.85 L271.95,105.85 L271.95,96.20 L273.25,96.20 L273.25,101.86 L274.75,101.86 L274.75,101.00 L275.25,101.00 L275.25,101.00 L276.25,101.00 L276.25,103.07 L277.60,103.07 L277.60,98.40 L277.75,98.40 L277.75,98.40 L278.75,98.40 L278.75,98.40 L279.20,98.40 L279.20,104.72 L280.00,104.72 L280.00,100.80 L280.25,100.80 L280.25,100.80 L281.25,100.80 L281.25,100.80 L282.00,100.80 L282.00,102.56 L282.50,102.56 L282.50,101.43 L283.50,101.43 L283.50,103.14 L284.50,103.14 L284.50,104.37 L284.70,104.37 L284.70,100.00 L285.50,100.00 L285.50,100.00 L286.30,100.00 L286.30,103.61 L287.50,103.61 L287.50,103.40 L288.00,103.40 L288.00,100.00 L289.00,100.00 L289.00,100.00 L289.60,100.00 L289.60,101.73 L290.00,101.73 L290.00,104.67 L291.00,104.67 L291.00,102.07 L291.30,102.07 L291.30,98.40 L292.90,98.40 L292.90,102.07 L293.00,102.07 L293.00,103.91 L294.40,103.91 L294.40,101.00 L295.00,101.00 L295.00,101.00 L296.00,101.00 L296.00,105.23 L297.00,105.23 L297.00,102.35 L298.00,102.35 L298.00,100.84 L299.25,100.84 L299.25,105.41 L300.00,105.41 L300.00,105.09 L301.00,105.09 L301.00,100.95 L302.00,100.95 L302.00,104.62 L302.50,104.62 L302.50,102.17 L303.30,102.17 L303.30,101.00 L304.00,101.00 L304.00,101.00 L304.90,101.00 L304.90,103.87 L305.25,103.87 L305.25,101.83 L306.50,101.83 L306.50,101.50 L307.50,101.50 L307.50,101.50 L308.75,101.50 L308.75,101.50 L310.25,101.50 L310.25,101.50 L310.75,101.50 L310.75,101.50 L311.50,101.50 L311.50,105.10 L312.00,105.10 L312.00,103.73 L313.50,103.73 L313.50,105.19 L314.25,105.19 L314.25,101.50 L315.50,101.50 L315.50,101.50 L317.00,101.50 L317.00,101.50 L318.00,101.50 L318.00,100.71 L318.75,100.71 L318.75,101.50 L319.50,101.50 L319.50,101.50 L319.75,101.50 L319.75,105.58 L320.25,105.58 L320.25,103.50 L321.50,103.50 L321.50,106.00 L322.50,106.00 L322.50,104.23 L323.30,104.23 L323.30,100.00 L324.00,100.00 L324.00,100.00 L324.50,100.00 L324.50,102.77 L325.25,102.77 L325.25,105.06 L326.75,105.06 L326.75,101.14 L327.25,101.14 L327.25,104.24 L328.25,104.24 L328.25,101.41 L330.00,101.41 L330.00,101.20 L330.25,101.20 L330.25,101.20 L332.00,101.20 L332.00,105.56 L332.25,105.56 L332.25,103.14 L332.75,103.14 L332.75,103.12 L333.75,103.12 L333.75,105.67 L334.90,105.67 L334.90,98.10 L335.00,98.10 L335.00,98.10 L336.25,98.10 L336.25,98.10 L336.50,98.10 L336.50,104.56 L337.25,104.56 L337.25,101.62 L337.60,101.62 L337.60,99.50 L338.25,99.50 L338.25,99.50 L339.20,99.50 L339.20,103.91 L339.50,103.91 L339.50,102.60 L340.50,102.60 L340.50,103.58 L341.25,103.58 L341.25,102.86 L342.30,102.86 L342.30,131.90 L341.30,131.90 L341.30,131.52 L340.80,131.52 L340.80,131.75 L339.80,131.75 L339.80,130.85 L338.30,130.85 L338.30,131.21 L337.80,131.21 L337.80,131.44 L336.30,131.44 L336.30,131.54 L335.30,131.54 L335.30,131.26 L333.80,131.26 L333.80,131.92 L332.80,131.92 L332.80,131.17 L331.80,131.17 L331.80,131.27 L330.30,131.27 L330.30,131.51 L329.80,131.51 L329.80,131.67 L328.80,131.67 L328.80,131.40 L327.80,131.40 L327.80,130.87 L326.80,130.87 L326.80,131.39 L325.80,131.39 L325.80,131.01 L324.80,131.01 L324.80,130.98 L324.30,130.98 L324.30,131.91 L322.80,131.91 L322.80,131.17 L322.30,131.17 L322.30,131.76 L321.80,131.76 L321.80,131.38 L321.30,131.38 L321.30,131.15 L319.80,131.15 L319.80,131.71 L318.80,131.71 L318.80,131.39 L318.30,131.39 L318.30,131.64 L317.80,131.64 L317.80,131.17 L316.80,131.17 L316.80,131.94 L315.30,131.94 L315.30,131.56 L313.80,131.56 L313.80,131.82 L312.30,131.82 L312.30,130.87 L311.80,130.87 L311.80,131.18 L311.30,131.18 L311.30,131.63 L309.80,131.63 L309.80,131.18 L308.30,131.18 L308.30,130.88 L306.80,130.88 L306.80,131.25 L305.80,131.25 L305.80,131.74 L304.30,131.74 L304.30,130.89 L303.80,130.89 L303.80,131.46 L302.80,131.46 L302.80,131.86 L301.30,131.86 L301.30,131.45 L299.80,131.45 L299.80,131.32 L299.30,131.32 L299.30,131.50 L298.30,131.50 L298.30,131.63 L296.80,131.63 L296.80,131.56 L295.30,131.56 L295.30,131.37 L294.30,131.37 L294.30,131.79 L292.80,131.79 L292.80,131.84 L292.30,131.84 L292.30,131.76 L291.30,131.76 L291.30,131.18 L290.80,131.18 L290.80,131.61 L290.30,131.61 L290.30,131.49 L289.30,131.49 L289.30,131.71 L287.80,131.71 L287.80,131.01 L286.80,131.01 L286.80,131.61 L285.80,131.61 L285.80,131.92 L284.80,131.92 L284.80,131.02 L283.30,131.02 L283.30,131.45 L281.80,131.45 L281.80,130.93 L281.30,130.93 L281.30,131.14 L280.80,131.14 L280.80,131.72 L280.30,131.72 L280.30,131.89 L278.80,131.89 L278.80,131.64 L277.80,131.64 L277.80,131.95 L277.30,131.95 L277.30,131.39 L275.80,131.39 L275.80,131.78 L275.30,131.78 L275.30,131.53 L274.80,131.53 L274.80,131.63 L274.30,131.63 L274.30,131.94 L273.80,131.94 L273.80,131.86 L272.30,131.86 L272.30,131.05 L271.80,131.05 L271.80,131.31 L271.30,131.31 L271.30,130.92 L270.80,130.92 L270.80,130.90 L270.30,130.90 L270.30,131.58 L269.80,131.58 L269.80,130.93 L268.30,130.93 L268.30,131.48 L267.80,131.48 L267.80,131.67 L267.30,131.67 L267.30,131.00 L265.80,131.00 L265.80,130.95 L264.80,130.95 L264.80,131.51 L263.30,131.51 L263.30,131.24 L262.30,131.24 L262.30,131.26 L260.80,131.26 L260.80,131.00 L260.30,131.00 L260.30,131.02 L259.30,131.02 L259.30,131.60 L257.80,131.60 L257.80,131.85 L256.80,131.85 L256.80,131.45 L255.30,131.45 L255.30,131.14 L254.80,131.14 L254.80,131.11 L253.30,131.11 L253.30,131.42 L252.30,131.42 L252.30,131.74 L251.80,131.74 L251.80,131.35 L250.80,131.35 L250.80,131.05 L249.80,131.05 L249.80,130.87 L248.30,130.87 L248.30,130.94 L247.30,130.94 L247.30,130.89 L245.80,130.89 L245.80,132.60 L245.30,132.60 L245.30,132.60 L243.80,132.60 L243.80,132.60 L242.30,132.60 L242.30,132.60 L241.30,132.60 L241.30,132.60 L240.80,132.60 L240.80,132.60 L239.80,132.60 L239.80,132.60 L238.80,132.60 L238.80,132.60 L237.80,132.60 L237.80,132.60 L236.80,132.60 L236.80,132.60 L236.30,132.60 L236.30,132.60 L234.80,132.60 L234.80,132.60 L234.30,132.60 L234.30,132.60 L234.00,132.60Z"/>
<path d="M223.05,81.5H342.6" stroke="#2b2b2b" stroke-width="0.9" fill="none"/>
<path d="M223.5,81.05V134.1" stroke="#2b2b2b" stroke-width="0.9" fill="none"/>
<path d="M342.6,81.05V134.1" stroke="#777777" stroke-width="1.1" fill="none"/>
<path d="M223.05,134.1H343.10" stroke="#6a6a6a" stroke-width="1.1" fill="none"/>
<line x1="221.10" y1="132.1" x2="223.5" y2="132.1" stroke="#2b2b2b" stroke-width="0.9"/>
<text x="218.60" y="134.20" class="tl" text-anchor="end">0</text>
<line x1="221.10" y1="109.0" x2="223.5" y2="109.0" stroke="#2b2b2b" stroke-width="0.9"/>
<text x="220.00" y="111.10" class="tl" text-anchor="end">100</text>
<line x1="221.10" y1="85.0" x2="223.5" y2="85.0" stroke="#2b2b2b" stroke-width="0.9"/>
<text x="220.00" y="87.10" class="tl" text-anchor="end">200</text>
<line x1="225.30" y1="134.40" x2="225.30" y2="137.30" stroke="#2b2b2b" stroke-width="0.9"/>
<line x1="252.52" y1="134.40" x2="252.52" y2="137.30" stroke="#2b2b2b" stroke-width="0.9"/>
<line x1="279.74" y1="134.40" x2="279.74" y2="137.30" stroke="#2b2b2b" stroke-width="0.9"/>
<line x1="306.96" y1="134.40" x2="306.96" y2="137.30" stroke="#2b2b2b" stroke-width="0.9"/>
<line x1="334.18" y1="134.40" x2="334.18" y2="137.30" stroke="#2b2b2b" stroke-width="0.9"/>
<text x="206.4" y="109.0" class="al" text-anchor="middle" transform="rotate(-90 206.4 109.0)">Y-axis</text>
<clipPath id="cbZ"><rect x="223.5" y="146.5" width="119.10" height="52.60"/></clipPath>
<rect x="224.7" y="195.75" width="8.60" height="1.5" fill="#45a0d2"/>
<path clip-path="url(#cbZ)" fill="#0678BD" d="M232.90,195.80 L233.65,195.80 L233.65,195.09 L234.40,195.09 L234.40,195.03 L234.90,195.03 L234.90,195.42 L235.65,195.42 L235.65,194.88 L236.40,194.88 L236.40,194.98 L237.15,194.98 L237.15,194.54 L237.90,194.54 L237.90,194.60 L238.40,194.60 L238.40,193.70 L239.15,193.70 L239.15,192.34 L239.65,192.34 L239.65,191.24 L240.15,191.24 L240.15,190.68 L240.90,190.68 L240.90,189.50 L241.65,189.50 L241.65,188.49 L242.40,188.49 L242.40,188.00 L243.15,188.00 L243.15,187.03 L243.90,187.03 L243.90,186.34 L244.65,186.34 L244.65,185.07 L246.15,185.07 L246.15,185.42 L247.15,185.42 L247.15,184.62 L248.15,184.62 L248.15,185.57 L248.20,185.57 L248.20,183.50 L249.65,183.50 L249.65,183.50 L250.90,183.50 L250.90,183.50 L251.40,183.50 L251.40,185.40 L252.15,185.40 L252.15,185.73 L253.65,185.73 L253.65,185.31 L254.65,185.31 L254.65,184.28 L255.40,184.28 L255.40,183.63 L256.40,183.63 L256.40,184.80 L257.65,184.80 L257.65,185.13 L258.15,185.13 L258.15,185.96 L258.60,185.96 L258.60,181.80 L259.40,181.80 L259.40,181.80 L259.90,181.80 L259.90,181.80 L260.20,181.80 L260.20,184.40 L260.90,184.40 L260.90,185.38 L261.90,185.38 L261.90,183.85 L262.40,183.85 L262.40,183.65 L263.15,183.65 L263.15,183.56 L264.40,183.56 L264.40,186.44 L264.50,186.44 L264.50,183.60 L266.40,183.60 L266.40,183.60 L267.50,183.60 L267.50,184.05 L268.40,184.05 L268.40,184.84 L268.90,184.84 L268.90,185.01 L269.40,185.01 L269.40,185.31 L270.15,185.31 L270.15,184.34 L270.90,184.34 L270.90,184.57 L271.65,184.57 L271.65,186.33 L273.15,186.33 L273.15,186.14 L273.65,186.14 L273.65,186.29 L274.20,186.29 L274.20,183.30 L274.65,183.30 L274.65,183.30 L275.15,183.30 L275.15,183.30 L275.80,183.30 L275.80,184.48 L276.65,184.48 L276.65,184.71 L277.90,184.71 L277.90,183.83 L278.20,183.83 L278.20,179.10 L278.40,179.10 L278.40,179.10 L279.80,179.10 L279.80,185.91 L279.90,185.91 L279.90,183.58 L281.90,183.58 L281.90,183.80 L282.00,183.80 L282.00,183.50 L282.90,183.50 L282.90,183.50 L283.40,183.50 L283.40,183.50 L284.15,183.50 L284.15,183.50 L284.90,183.50 L284.90,183.50 L285.90,183.50 L285.90,183.50 L286.00,183.50 L286.00,185.45 L286.90,185.45 L286.90,179.90 L287.90,179.90 L287.90,179.90 L288.50,179.90 L288.50,185.63 L289.15,185.63 L289.15,187.03 L291.15,187.03 L291.15,186.40 L292.15,186.40 L292.15,186.42 L292.65,186.42 L292.65,187.05 L294.65,187.05 L294.65,186.46 L295.65,186.46 L295.65,184.33 L296.65,184.33 L296.65,185.95 L297.30,185.95 L297.30,184.20 L297.65,184.20 L297.65,184.20 L298.15,184.20 L298.15,184.20 L298.90,184.20 L298.90,186.56 L299.40,186.56 L299.40,185.36 L300.65,185.36 L300.65,185.03 L302.15,185.03 L302.15,186.81 L303.15,186.81 L303.15,187.25 L304.65,187.25 L304.65,184.98 L305.40,184.98 L305.40,185.19 L306.40,185.19 L306.40,184.62 L307.00,184.62 L307.00,184.00 L307.15,184.00 L307.15,184.00 L307.65,184.00 L307.65,184.00 L308.40,184.00 L308.40,184.00 L309.00,184.00 L309.00,185.93 L309.40,185.93 L309.40,185.39 L310.15,185.39 L310.15,187.15 L311.40,187.15 L311.40,184.35 L312.15,184.35 L312.15,185.76 L312.90,185.76 L312.90,186.82 L313.10,186.82 L313.10,181.30 L314.40,181.30 L314.40,181.30 L314.70,181.30 L314.70,186.93 L315.65,186.93 L315.65,184.76 L316.00,184.76 L316.00,184.30 L317.65,184.30 L317.65,184.30 L318.40,184.30 L318.40,184.30 L319.90,184.30 L319.90,184.30 L320.00,184.30 L320.00,184.59 L320.90,184.59 L320.90,185.28 L322.90,185.28 L322.90,186.45 L323.65,186.45 L323.65,185.69 L324.15,185.69 L324.15,184.99 L325.40,184.99 L325.40,186.24 L327.40,186.24 L327.40,186.44 L328.40,186.44 L328.40,185.82 L328.90,185.82 L328.90,184.20 L330.15,184.20 L330.15,184.20 L330.50,184.20 L330.50,185.75 L331.65,185.75 L331.65,187.04 L332.40,187.04 L332.40,185.46 L334.40,185.46 L334.40,185.17 L335.40,185.17 L335.40,185.41 L336.15,185.41 L336.15,186.97 L337.65,186.97 L337.65,187.07 L338.15,187.07 L338.15,187.30 L338.65,187.30 L338.65,186.02 L338.70,186.02 L338.70,179.60 L339.15,179.60 L339.15,179.60 L340.30,179.60 L340.30,187.13 L340.65,187.13 L340.65,185.82 L340.75,185.82 L340.75,183.00 L342.15,183.00 L342.15,183.00 L342.25,183.00 L342.25,186.36 L342.30,186.36 L342.30,196.35 L341.80,196.35 L341.80,196.00 L340.80,196.00 L340.80,196.51 L339.30,196.51 L339.30,195.85 L338.30,195.85 L338.30,196.55 L337.80,196.55 L337.80,195.94 L337.30,195.94 L337.30,196.23 L335.80,196.23 L335.80,196.52 L335.30,196.52 L335.30,195.81 L334.80,195.81 L334.80,196.58 L334.30,196.58 L334.30,196.84 L332.80,196.84 L332.80,196.47 L331.80,196.47 L331.80,196.03 L330.80,196.03 L330.80,195.97 L330.30,195.97 L330.30,196.61 L328.80,196.61 L328.80,195.99 L327.30,195.99 L327.30,195.76 L325.80,195.76 L325.80,196.62 L324.30,196.62 L324.30,196.82 L322.80,196.82 L322.80,196.71 L321.30,196.71 L321.30,196.60 L320.30,196.60 L320.30,196.39 L319.80,196.39 L319.80,195.79 L318.30,195.79 L318.30,196.51 L317.30,196.51 L317.30,196.79 L316.80,196.79 L316.80,196.15 L316.30,196.15 L316.30,196.79 L314.80,196.79 L314.80,196.50 L313.80,196.50 L313.80,196.13 L313.30,196.13 L313.30,195.76 L312.80,195.76 L312.80,196.28 L312.30,196.28 L312.30,196.66 L311.30,196.66 L311.30,196.49 L310.80,196.49 L310.80,196.05 L309.30,196.05 L309.30,195.89 L308.80,195.89 L308.80,195.95 L307.30,195.95 L307.30,196.17 L305.80,196.17 L305.80,196.22 L304.30,196.22 L304.30,196.44 L302.80,196.44 L302.80,196.77 L301.80,196.77 L301.80,195.90 L300.80,195.90 L300.80,195.96 L300.30,195.96 L300.30,195.87 L299.30,195.87 L299.30,196.38 L298.80,196.38 L298.80,196.31 L298.30,196.31 L298.30,195.92 L297.80,195.92 L297.80,196.27 L296.80,196.27 L296.80,196.59 L295.30,196.59 L295.30,196.64 L293.80,196.64 L293.80,195.99 L292.80,195.99 L292.80,196.74 L291.30,196.74 L291.30,196.60 L290.80,196.60 L290.80,196.71 L289.80,196.71 L289.80,196.12 L289.30,196.12 L289.30,196.10 L288.30,196.10 L288.30,196.16 L287.30,196.16 L287.30,196.15 L285.80,196.15 L285.80,196.61 L285.30,196.61 L285.30,195.84 L284.80,195.84 L284.80,196.43 L283.30,196.43 L283.30,196.77 L282.80,196.77 L282.80,195.96 L282.30,195.96 L282.30,195.89 L281.30,195.89 L281.30,196.32 L280.80,196.32 L280.80,196.32 L280.30,196.32 L280.30,196.76 L279.30,196.76 L279.30,196.68 L278.30,196.68 L278.30,196.18 L276.80,196.18 L276.80,196.46 L275.80,196.46 L275.80,196.04 L275.30,196.04 L275.30,195.87 L274.80,195.87 L274.80,196.42 L273.30,196.42 L273.30,196.65 L272.80,196.65 L272.80,195.87 L271.30,195.87 L271.30,196.59 L269.80,196.59 L269.80,195.85 L269.30,195.85 L269.30,196.58 L267.80,196.58 L267.80,196.14 L267.30,196.14 L267.30,196.82 L266.80,196.82 L266.80,195.94 L266.30,195.94 L266.30,196.00 L265.80,196.00 L265.80,196.70 L265.30,196.70 L265.30,196.77 L263.80,196.77 L263.80,195.87 L262.30,195.87 L262.30,195.90 L260.80,195.90 L260.80,196.38 L260.30,196.38 L260.30,195.91 L258.80,195.91 L258.80,196.44 L257.80,196.44 L257.80,196.05 L257.30,196.05 L257.30,195.82 L256.80,195.82 L256.80,195.78 L255.30,195.78 L255.30,196.25 L253.80,196.25 L253.80,195.76 L253.30,195.76 L253.30,195.86 L251.80,195.86 L251.80,196.12 L250.30,196.12 L250.30,196.67 L248.80,196.67 L248.80,195.91 L247.80,195.91 L247.80,196.16 L247.30,196.16 L247.30,196.57 L246.30,196.57 L246.30,196.79 L245.80,196.79 L245.80,195.86 L245.30,195.86 L245.30,196.16 L244.30,196.16 L244.30,197.00 L243.80,197.00 L243.80,197.00 L242.30,197.00 L242.30,197.00 L240.80,197.00 L240.80,197.00 L239.80,197.00 L239.80,197.00 L238.80,197.00 L238.80,197.00 L238.30,197.00 L238.30,197.00 L237.30,197.00 L237.30,197.00 L236.80,197.00 L236.80,197.00 L235.80,197.00 L235.80,197.00 L234.30,197.00 L234.30,197.00 L233.80,197.00 L233.80,197.00 L232.90,197.00Z"/>
<path d="M223.05,146.5H342.6" stroke="#2b2b2b" stroke-width="0.9" fill="none"/>
<path d="M223.5,146.05V199.1" stroke="#2b2b2b" stroke-width="0.9" fill="none"/>
<path d="M342.6,146.05V199.1" stroke="#777777" stroke-width="1.1" fill="none"/>
<path d="M223.05,199.1H343.10" stroke="#6a6a6a" stroke-width="1.1" fill="none"/>
<line x1="221.10" y1="196.6" x2="223.5" y2="196.6" stroke="#2b2b2b" stroke-width="0.9"/>
<text x="218.60" y="198.70" class="tl" text-anchor="end">0</text>
<line x1="221.10" y1="173.4" x2="223.5" y2="173.4" stroke="#2b2b2b" stroke-width="0.9"/>
<text x="220.00" y="175.50" class="tl" text-anchor="end">100</text>
<line x1="221.10" y1="150.0" x2="223.5" y2="150.0" stroke="#2b2b2b" stroke-width="0.9"/>
<text x="220.00" y="152.10" class="tl" text-anchor="end">200</text>
<line x1="225.30" y1="199.40" x2="225.30" y2="202.30" stroke="#2b2b2b" stroke-width="0.9"/>
<text x="225.30" y="207.50" class="tl" text-anchor="middle">0</text>
<line x1="252.52" y1="199.40" x2="252.52" y2="202.30" stroke="#2b2b2b" stroke-width="0.9"/>
<text x="252.52" y="207.50" class="tl" text-anchor="middle">2500</text>
<line x1="279.74" y1="199.40" x2="279.74" y2="202.30" stroke="#2b2b2b" stroke-width="0.9"/>
<text x="279.74" y="207.50" class="tl" text-anchor="middle">5000</text>
<line x1="306.96" y1="199.40" x2="306.96" y2="202.30" stroke="#2b2b2b" stroke-width="0.9"/>
<text x="306.96" y="207.50" class="tl" text-anchor="middle">7500</text>
<line x1="334.18" y1="199.40" x2="334.18" y2="202.30" stroke="#2b2b2b" stroke-width="0.9"/>
<text x="332.98" y="207.50" class="tl" text-anchor="middle">10000</text>
<text x="206.4" y="173.4" class="al" text-anchor="middle" transform="rotate(-90 206.4 173.4)">Z-axis</text>
<text x="279.8" y="214.5" class="al" text-anchor="middle">Frequency/Hz</text>
<clipPath id="ccX"><rect x="425.4" y="9.5" width="119.20" height="52.70"/></clipPath>
<rect x="426.7" y="58.35" width="8.60" height="1.5" fill="#45a0d2"/>
<path clip-path="url(#ccX)" fill="#0678BD" d="M434.90,58.22 L435.65,58.22 L435.65,58.17 L436.15,58.17 L436.15,58.07 L436.65,58.07 L436.65,58.09 L437.15,58.09 L437.15,57.85 L437.90,57.85 L437.90,56.69 L438.65,56.69 L438.65,55.42 L439.40,55.42 L439.40,54.66 L440.15,54.66 L440.15,53.25 L440.90,53.25 L440.90,51.33 L441.65,51.33 L441.65,49.29 L442.40,49.29 L442.40,47.44 L443.15,47.44 L443.15,45.82 L443.65,45.82 L443.65,43.35 L444.15,43.35 L444.15,40.41 L444.65,40.41 L444.65,34.92 L444.80,34.92 L444.80,28.10 L445.15,28.10 L445.15,28.10 L445.65,28.10 L445.65,28.10 L446.90,28.10 L446.90,28.10 L447.20,28.10 L447.20,32.91 L447.90,32.91 L447.90,28.10 L448.15,28.10 L448.15,28.10 L448.90,28.10 L448.90,28.10 L450.15,28.10 L450.15,28.10 L450.50,28.10 L450.50,28.68 L451.65,28.68 L451.65,30.68 L452.15,30.68 L452.15,32.28 L453.40,32.28 L453.40,28.60 L454.15,28.60 L454.15,28.60 L454.80,28.60 L454.80,29.93 L456.15,29.93 L456.15,30.66 L457.40,30.66 L457.40,32.77 L458.40,32.77 L458.40,32.76 L458.90,32.76 L458.90,12.30 L459.40,12.30 L459.40,12.30 L459.90,12.30 L459.90,12.30 L460.50,12.30 L460.50,34.24 L460.65,34.24 L460.65,32.42 L461.15,32.42 L461.15,33.16 L461.65,33.16 L461.65,34.89 L462.10,34.89 L462.10,23.20 L462.90,23.20 L462.90,23.20 L463.40,23.20 L463.40,23.20 L463.50,23.20 L463.50,28.73 L464.65,28.73 L464.65,35.45 L466.65,35.45 L466.65,34.13 L467.10,34.13 L467.10,29.20 L467.65,29.20 L467.65,29.20 L468.50,29.20 L468.50,34.57 L468.65,34.57 L468.65,28.70 L469.90,28.70 L469.90,33.00 L470.40,33.00 L470.40,34.81 L471.40,34.81 L471.40,28.43 L472.00,28.43 L472.00,28.43 L472.40,28.43 L472.40,28.60 L473.40,28.60 L473.40,28.60 L473.60,28.60 L473.60,35.03 L473.90,35.03 L473.90,30.21 L475.40,30.21 L475.40,33.74 L477.40,33.74 L477.40,30.64 L478.65,30.64 L478.65,35.50 L479.55,35.50 L479.55,28.10 L479.90,28.10 L479.90,28.10 L481.25,28.10 L481.25,33.04 L481.40,33.04 L481.40,31.73 L481.90,31.73 L481.90,30.17 L482.90,30.17 L482.90,28.57 L484.90,28.57 L484.90,35.02 L486.90,35.02 L486.90,33.79 L487.90,33.79 L487.90,29.10 L488.40,29.10 L488.40,27.00 L488.90,27.00 L488.90,27.00 L490.00,27.00 L490.00,30.09 L490.15,30.09 L490.15,31.76 L491.40,31.76 L491.40,33.30 L492.15,33.30 L492.15,31.25 L494.15,31.25 L494.15,28.56 L494.90,28.56 L494.90,28.10 L496.15,28.10 L496.15,28.10 L496.50,28.10 L496.50,34.29 L496.90,34.29 L496.90,29.77 L497.60,29.77 L497.60,23.20 L498.40,23.20 L498.40,23.20 L499.15,23.20 L499.15,23.20 L500.15,23.20 L500.15,23.20 L500.40,23.20 L500.40,11.20 L500.65,11.20 L500.65,11.20 L501.65,11.20 L501.65,11.20 L502.00,11.20 L502.00,24.30 L503.15,24.30 L503.15,24.30 L503.60,24.30 L503.60,31.34 L504.15,31.34 L504.15,32.48 L505.65,32.48 L505.65,28.57 L506.65,28.57 L506.65,35.14 L507.15,35.14 L507.15,34.08 L507.90,34.08 L507.90,33.28 L508.90,33.28 L508.90,31.21 L509.20,31.21 L509.20,28.50 L510.15,28.50 L510.15,28.50 L510.80,28.50 L510.80,29.65 L511.15,29.65 L511.15,29.16 L512.15,29.16 L512.15,29.95 L512.60,29.95 L512.60,22.10 L512.65,22.10 L512.65,22.10 L513.15,22.10 L513.15,22.10 L514.00,22.10 L514.00,29.16 L515.15,29.16 L515.15,30.60 L515.90,30.60 L515.90,32.29 L516.65,32.29 L516.65,32.61 L518.00,32.61 L518.00,22.10 L518.15,22.10 L518.15,22.10 L519.80,22.10 L519.80,33.35 L520.15,33.35 L520.15,28.92 L521.00,28.92 L521.00,28.30 L521.65,28.30 L521.65,28.30 L522.65,28.30 L522.65,28.30 L523.00,28.30 L523.00,30.39 L523.15,30.39 L523.15,30.52 L523.90,30.52 L523.90,28.59 L524.40,28.59 L524.40,34.67 L525.40,34.67 L525.40,29.94 L526.15,29.94 L526.15,31.35 L527.25,31.35 L527.25,26.50 L527.40,26.50 L527.40,26.50 L528.75,26.50 L528.75,28.69 L528.90,28.69 L528.90,29.01 L529.65,29.01 L529.65,31.81 L529.75,31.81 L529.75,11.00 L530.40,11.00 L530.40,11.00 L531.60,11.00 L531.60,11.00 L531.65,11.00 L531.65,23.20 L532.40,23.20 L532.40,23.20 L533.90,23.20 L533.90,23.20 L534.40,23.20 L534.40,35.04 L535.40,35.04 L535.40,29.05 L536.40,29.05 L536.40,28.60 L537.15,28.60 L537.15,28.60 L537.60,28.60 L537.60,29.83 L537.90,29.83 L537.90,35.59 L538.65,35.59 L538.65,33.68 L539.40,33.68 L539.40,30.29 L540.40,30.29 L540.40,33.92 L541.40,33.92 L541.40,29.79 L541.90,29.79 L541.90,29.24 L542.25,29.24 L542.25,27.50 L542.90,27.50 L542.90,27.50 L543.75,27.50 L543.75,29.33 L544.30,29.33 L544.30,58.95 L542.80,58.95 L542.80,58.51 L541.30,58.51 L541.30,58.19 L539.80,58.19 L539.80,58.63 L539.30,58.63 L539.30,59.01 L538.80,59.01 L538.80,58.72 L538.30,58.72 L538.30,58.24 L537.80,58.24 L537.80,58.73 L536.80,58.73 L536.80,58.66 L536.30,58.66 L536.30,58.80 L535.30,58.80 L535.30,58.66 L533.80,58.66 L533.80,59.02 L533.30,59.02 L533.30,58.32 L532.80,58.32 L532.80,58.10 L531.80,58.10 L531.80,58.61 L531.30,58.61 L531.30,58.08 L529.80,58.08 L529.80,58.54 L529.30,58.54 L529.30,59.12 L527.80,59.12 L527.80,58.61 L526.30,58.61 L526.30,58.35 L524.80,58.35 L524.80,58.64 L523.30,58.64 L523.30,58.61 L522.30,58.61 L522.30,58.82 L521.80,58.82 L521.80,59.07 L520.80,59.07 L520.80,58.97 L520.30,58.97 L520.30,58.51 L519.80,58.51 L519.80,58.54 L518.80,58.54 L518.80,58.79 L518.30,58.79 L518.30,58.13 L517.30,58.13 L517.30,58.38 L515.80,58.38 L515.80,59.04 L515.30,59.04 L515.30,59.08 L514.80,59.08 L514.80,58.78 L513.30,58.78 L513.30,58.33 L512.80,58.33 L512.80,59.11 L512.30,59.11 L512.30,58.87 L511.80,58.87 L511.80,58.49 L511.30,58.49 L511.30,58.23 L510.30,58.23 L510.30,58.97 L508.80,58.97 L508.80,58.83 L508.30,58.83 L508.30,58.49 L506.80,58.49 L506.80,58.27 L505.80,58.27 L505.80,58.15 L504.80,58.15 L504.80,58.07 L503.80,58.07 L503.80,58.55 L502.30,58.55 L502.30,58.07 L500.80,58.07 L500.80,58.62 L499.80,58.62 L499.80,58.61 L498.80,58.61 L498.80,58.17 L498.30,58.17 L498.30,59.12 L497.80,59.12 L497.80,58.14 L497.30,58.14 L497.30,58.09 L496.30,58.09 L496.30,58.35 L495.80,58.35 L495.80,58.95 L495.30,58.95 L495.30,58.95 L493.80,58.95 L493.80,58.50 L492.80,58.50 L492.80,59.06 L491.30,59.06 L491.30,58.59 L489.80,58.59 L489.80,58.15 L488.80,58.15 L488.80,58.93 L488.30,58.93 L488.30,58.52 L487.80,58.52 L487.80,58.35 L487.30,58.35 L487.30,58.75 L486.80,58.75 L486.80,58.14 L485.80,58.14 L485.80,58.12 L485.30,58.12 L485.30,58.55 L484.80,58.55 L484.80,59.14 L483.80,59.14 L483.80,59.07 L482.80,59.07 L482.80,58.73 L481.80,58.73 L481.80,58.63 L481.30,58.63 L481.30,59.08 L480.80,59.08 L480.80,58.34 L480.30,58.34 L480.30,58.27 L479.80,58.27 L479.80,58.74 L478.80,58.74 L478.80,58.89 L477.30,58.89 L477.30,58.54 L476.30,58.54 L476.30,58.25 L474.80,58.25 L474.80,58.93 L473.80,58.93 L473.80,58.09 L472.80,58.09 L472.80,58.86 L472.30,58.86 L472.30,59.13 L470.80,59.13 L470.80,58.57 L469.30,58.57 L469.30,58.17 L468.30,58.17 L468.30,58.53 L466.80,58.53 L466.80,58.65 L465.80,58.65 L465.80,59.12 L464.80,59.12 L464.80,58.81 L463.80,58.81 L463.80,58.43 L463.30,58.43 L463.30,58.85 L461.80,58.85 L461.80,58.50 L461.30,58.50 L461.30,59.13 L460.30,59.13 L460.30,58.07 L459.80,58.07 L459.80,58.86 L458.30,58.86 L458.30,58.52 L457.30,58.52 L457.30,58.14 L456.80,58.14 L456.80,59.01 L455.80,59.01 L455.80,59.12 L454.30,59.12 L454.30,58.32 L452.80,58.32 L452.80,58.10 L451.80,58.10 L451.80,58.22 L451.30,58.22 L451.30,58.05 L450.30,58.05 L450.30,59.11 L449.30,59.11 L449.30,58.41 L447.80,58.41 L447.80,59.11 L447.30,59.11 L447.30,58.29 L446.30,58.29 L446.30,58.05 L445.80,58.05 L445.80,58.14 L444.80,58.14 L444.80,59.60 L443.80,59.60 L443.80,59.60 L442.30,59.60 L442.30,59.60 L440.80,59.60 L440.80,59.60 L440.30,59.60 L440.30,59.60 L439.80,59.60 L439.80,59.60 L438.30,59.60 L438.30,59.60 L437.80,59.60 L437.80,59.60 L437.30,59.60 L437.30,59.60 L436.30,59.60 L436.30,59.60 L435.80,59.60 L435.80,59.60 L435.30,59.60 L435.30,59.60 L434.90,59.60Z"/>
<path d="M424.95,9.5H544.6" stroke="#2b2b2b" stroke-width="0.9" fill="none"/>
<path d="M425.4,9.05V62.2" stroke="#8a8a8a" stroke-width="1.1" fill="none"/>
<path d="M544.6,9.05V62.2" stroke="#a0a0a0" stroke-width="1.1" fill="none"/>
<path d="M424.95,62.2H545.10" stroke="#c8c8c8" stroke-width="0.9" fill="none"/>
<line x1="423.00" y1="59.3" x2="425.4" y2="59.3" stroke="#2b2b2b" stroke-width="0.9"/>
<text x="422.00" y="60.80" class="tlc" text-anchor="end">0</text>
<line x1="423.00" y1="39.2" x2="425.4" y2="39.2" stroke="#2b2b2b" stroke-width="0.9"/>
<text x="423.10" y="40.70" class="tlc" text-anchor="end">50</text>
<line x1="423.00" y1="19.1" x2="425.4" y2="19.1" stroke="#2b2b2b" stroke-width="0.9"/>
<text x="423.10" y="20.60" class="tlc" text-anchor="end">100</text>
<line x1="427.10" y1="62.50" x2="427.10" y2="65.40" stroke="#2b2b2b" stroke-width="0.9"/>
<line x1="454.43" y1="62.50" x2="454.43" y2="65.40" stroke="#2b2b2b" stroke-width="0.9"/>
<line x1="481.76" y1="62.50" x2="481.76" y2="65.40" stroke="#2b2b2b" stroke-width="0.9"/>
<line x1="509.09" y1="62.50" x2="509.09" y2="65.40" stroke="#2b2b2b" stroke-width="0.9"/>
<line x1="536.42" y1="62.50" x2="536.42" y2="65.40" stroke="#2b2b2b" stroke-width="0.9"/>
<text x="408.6" y="32.6" class="al" text-anchor="middle" transform="rotate(-90 408.6 32.6)">X-axis</text>
<clipPath id="ccY"><rect x="425.4" y="72.8" width="119.20" height="52.40"/></clipPath>
<rect x="426.7" y="122.05" width="8.20" height="1.5" fill="#45a0d2"/>
<path clip-path="url(#ccY)" fill="#0678BD" d="M434.50,122.30 L435.00,122.30 L435.00,122.30 L435.50,122.30 L435.50,121.83 L436.00,121.83 L436.00,121.76 L436.50,121.76 L436.50,121.74 L437.00,121.74 L437.00,121.85 L437.75,121.85 L437.75,121.05 L438.25,121.05 L438.25,120.94 L438.75,120.94 L438.75,119.65 L439.50,119.65 L439.50,118.03 L440.00,118.03 L440.00,116.94 L440.75,116.94 L440.75,115.06 L441.25,115.06 L441.25,112.86 L441.75,112.86 L441.75,111.71 L442.50,111.71 L442.50,108.68 L443.25,108.68 L443.25,106.53 L443.75,106.53 L443.75,104.34 L444.25,104.34 L444.25,102.69 L444.75,102.69 L444.75,101.24 L445.50,101.24 L445.50,97.55 L445.80,97.55 L445.80,93.20 L446.25,93.20 L446.25,93.20 L447.40,93.20 L447.40,100.37 L448.25,100.37 L448.25,95.71 L448.75,95.71 L448.75,92.18 L449.25,92.18 L449.25,92.11 L450.70,92.11 L450.70,82.80 L451.25,82.80 L451.25,82.80 L452.50,82.80 L452.50,93.27 L452.90,93.27 L452.90,89.90 L453.25,89.90 L453.25,89.90 L454.00,89.90 L454.00,89.90 L454.50,89.90 L454.50,97.23 L455.00,97.23 L455.00,96.26 L455.50,96.26 L455.50,98.52 L456.25,98.52 L456.25,95.74 L457.25,95.74 L457.25,92.99 L457.80,92.99 L457.80,90.40 L458.25,90.40 L458.25,90.40 L459.40,90.40 L459.40,99.26 L459.50,99.26 L459.50,93.64 L460.30,93.64 L460.30,92.00 L461.00,92.00 L461.00,92.00 L461.70,92.00 L461.70,99.22 L462.00,99.22 L462.00,95.58 L462.50,95.58 L462.50,93.70 L463.50,93.70 L463.50,95.12 L463.80,95.12 L463.80,91.00 L465.50,91.00 L465.50,91.00 L466.25,91.00 L466.25,91.00 L466.60,91.00 L466.60,99.92 L466.75,99.92 L466.75,96.22 L467.25,96.22 L467.25,98.42 L467.75,98.42 L467.75,93.77 L469.00,93.77 L469.00,91.92 L469.80,91.92 L469.80,91.92 L470.50,91.92 L470.50,92.60 L471.40,92.60 L471.40,97.00 L471.50,97.00 L471.50,95.47 L472.90,95.47 L472.90,94.00 L473.00,94.00 L473.00,93.34 L474.10,93.34 L474.10,93.34 L474.25,93.34 L474.25,92.75 L475.50,92.75 L475.50,98.53 L476.25,98.53 L476.25,97.37 L477.25,97.37 L477.25,93.45 L478.50,93.45 L478.50,89.40 L478.75,89.40 L478.75,89.40 L479.75,89.40 L479.75,89.40 L480.10,89.40 L480.10,94.68 L480.25,94.68 L480.25,93.47 L481.25,93.47 L481.25,98.31 L482.25,98.31 L482.25,99.66 L482.80,99.66 L482.80,92.50 L483.25,92.50 L483.25,91.29 L484.20,91.29 L484.20,91.29 L484.25,91.29 L484.25,92.88 L484.40,92.88 L484.40,92.00 L485.60,92.00 L485.60,92.88 L485.75,92.88 L485.75,92.47 L487.00,92.47 L487.00,97.58 L489.00,97.58 L489.00,91.49 L489.80,91.49 L489.80,91.49 L491.00,91.49 L491.00,91.80 L491.20,91.80 L491.20,92.07 L492.50,92.07 L492.50,92.53 L492.65,92.53 L492.65,86.10 L493.25,86.10 L493.25,86.10 L494.25,86.10 L494.25,86.10 L494.35,86.10 L494.35,91.48 L496.25,91.48 L496.25,91.86 L497.00,91.86 L497.00,97.70 L497.65,97.70 L497.65,92.60 L498.25,92.60 L498.25,92.60 L499.15,92.60 L499.15,96.84 L499.75,96.84 L499.75,95.54 L501.25,95.54 L501.25,93.64 L501.80,93.64 L501.80,91.00 L503.25,91.00 L503.25,91.00 L503.40,91.00 L503.40,94.12 L504.50,94.12 L504.50,97.04 L505.50,97.04 L505.50,93.20 L506.90,93.20 L506.90,98.58 L507.50,98.58 L507.50,95.49 L509.50,95.49 L509.50,99.64 L510.25,99.64 L510.25,99.76 L510.70,99.76 L510.70,92.60 L511.75,92.60 L511.75,92.37 L512.30,92.37 L512.30,92.37 L512.75,92.37 L512.75,93.17 L514.00,93.17 L514.00,92.72 L515.00,92.72 L515.00,91.26 L516.00,91.26 L516.00,92.96 L517.25,92.96 L517.25,97.91 L518.20,97.91 L518.20,92.60 L518.75,92.60 L518.75,92.60 L519.75,92.60 L519.75,92.60 L519.80,92.60 L519.80,98.13 L520.50,98.13 L520.50,93.09 L521.20,93.09 L521.20,93.09 L522.00,93.09 L522.00,93.20 L522.40,93.20 L522.40,96.17 L522.75,96.17 L522.75,92.88 L524.00,92.88 L524.00,95.55 L524.75,95.55 L524.75,97.00 L526.75,97.00 L526.75,99.42 L526.90,99.42 L526.90,91.00 L527.25,91.00 L527.25,91.00 L528.75,91.00 L528.75,91.00 L529.10,91.00 L529.10,98.82 L530.00,98.82 L530.00,91.24 L530.50,91.24 L530.50,93.14 L531.25,93.14 L531.25,100.20 L532.00,100.20 L532.00,94.08 L532.20,94.08 L532.20,92.60 L532.50,92.60 L532.50,92.60 L533.50,92.60 L533.50,92.39 L533.80,92.39 L533.80,92.39 L534.50,92.39 L534.50,91.87 L535.00,91.87 L535.00,99.24 L536.00,99.24 L536.00,92.43 L537.50,92.43 L537.50,99.79 L538.00,99.79 L538.00,86.10 L539.50,86.10 L539.50,86.10 L539.80,86.10 L539.80,100.04 L540.00,100.04 L540.00,92.49 L541.00,92.49 L541.00,91.00 L541.50,91.00 L541.50,91.00 L542.60,91.00 L542.60,92.99 L543.50,92.99 L543.50,99.71 L544.25,99.71 L544.25,93.73 L544.30,93.73 L544.30,121.99 L543.30,121.99 L543.30,122.14 L541.80,122.14 L541.80,121.82 L540.80,121.82 L540.80,122.76 L540.30,122.76 L540.30,122.13 L538.80,122.13 L538.80,121.92 L538.30,121.92 L538.30,121.91 L537.30,121.91 L537.30,122.61 L535.80,122.61 L535.80,122.34 L535.30,122.34 L535.30,122.07 L534.80,122.07 L534.80,122.12 L534.30,122.12 L534.30,121.87 L533.80,121.87 L533.80,121.81 L533.30,121.81 L533.30,121.95 L531.80,121.95 L531.80,122.37 L531.30,122.37 L531.30,122.07 L530.30,122.07 L530.30,122.56 L529.80,122.56 L529.80,121.87 L528.80,121.87 L528.80,122.78 L527.30,122.78 L527.30,122.77 L526.80,122.77 L526.80,122.00 L526.30,122.00 L526.30,122.20 L525.80,122.20 L525.80,121.90 L525.30,121.90 L525.30,121.82 L524.30,121.82 L524.30,122.39 L523.30,122.39 L523.30,122.07 L521.80,122.07 L521.80,122.39 L520.80,122.39 L520.80,122.76 L519.30,122.76 L519.30,122.37 L517.80,122.37 L517.80,122.29 L516.30,122.29 L516.30,122.56 L515.30,122.56 L515.30,121.96 L513.80,121.96 L513.80,122.50 L512.80,122.50 L512.80,122.67 L511.80,122.67 L511.80,122.30 L510.80,122.30 L510.80,122.34 L509.30,122.34 L509.30,122.07 L507.80,122.07 L507.80,122.38 L507.30,122.38 L507.30,122.59 L506.30,122.59 L506.30,122.46 L505.30,122.46 L505.30,122.07 L504.80,122.07 L504.80,121.79 L504.30,121.79 L504.30,122.31 L503.30,122.31 L503.30,122.13 L502.30,122.13 L502.30,121.78 L500.80,121.78 L500.80,122.66 L500.30,122.66 L500.30,121.84 L499.80,121.84 L499.80,122.24 L499.30,122.24 L499.30,122.59 L498.80,122.59 L498.80,122.37 L497.80,122.37 L497.80,122.81 L496.30,122.81 L496.30,122.16 L495.80,122.16 L495.80,121.79 L494.30,121.79 L494.30,122.54 L492.80,122.54 L492.80,122.83 L491.80,122.83 L491.80,121.87 L490.80,121.87 L490.80,122.47 L489.80,122.47 L489.80,122.68 L488.80,122.68 L488.80,122.01 L487.30,122.01 L487.30,122.38 L486.30,122.38 L486.30,122.58 L485.30,122.58 L485.30,122.16 L484.30,122.16 L484.30,122.49 L482.80,122.49 L482.80,121.90 L481.30,121.90 L481.30,122.48 L479.80,122.48 L479.80,122.09 L478.30,122.09 L478.30,122.81 L477.80,122.81 L477.80,122.15 L476.30,122.15 L476.30,122.27 L475.30,122.27 L475.30,122.08 L474.80,122.08 L474.80,122.04 L473.30,122.04 L473.30,122.61 L472.80,122.61 L472.80,122.07 L471.30,122.07 L471.30,122.04 L469.80,122.04 L469.80,122.07 L468.80,122.07 L468.80,122.24 L467.80,122.24 L467.80,121.85 L466.30,121.85 L466.30,122.23 L464.80,122.23 L464.80,122.39 L464.30,122.39 L464.30,121.87 L462.80,121.87 L462.80,122.41 L461.30,122.41 L461.30,122.15 L460.30,122.15 L460.30,122.17 L458.80,122.17 L458.80,122.33 L457.30,122.33 L457.30,121.94 L455.80,121.94 L455.80,122.30 L455.30,122.30 L455.30,121.85 L454.80,121.85 L454.80,122.58 L453.30,122.58 L453.30,121.91 L452.80,121.91 L452.80,122.03 L451.80,122.03 L451.80,122.80 L451.30,122.80 L451.30,121.79 L450.80,121.79 L450.80,122.66 L449.30,122.66 L449.30,122.10 L448.30,122.10 L448.30,122.56 L447.80,122.56 L447.80,121.89 L446.30,121.89 L446.30,122.45 L445.30,122.45 L445.30,123.30 L444.80,123.30 L444.80,123.30 L444.30,123.30 L444.30,123.30 L443.80,123.30 L443.80,123.30 L442.80,123.30 L442.80,123.30 L441.80,123.30 L441.80,123.30 L441.30,123.30 L441.30,123.30 L440.30,123.30 L440.30,123.30 L439.80,123.30 L439.80,123.30 L439.30,123.30 L439.30,123.30 L437.80,123.30 L437.80,123.30 L437.30,123.30 L437.30,123.30 L435.80,123.30 L435.80,123.30 L434.50,123.30Z"/>
<path d="M424.95,72.8H544.6" stroke="#2b2b2b" stroke-width="0.9" fill="none"/>
<path d="M425.4,72.35V125.2" stroke="#8a8a8a" stroke-width="1.1" fill="none"/>
<path d="M544.6,72.35V125.2" stroke="#a0a0a0" stroke-width="1.1" fill="none"/>
<path d="M424.95,125.2H545.10" stroke="#c0c0c0" stroke-width="0.9" fill="none"/>
<line x1="423.00" y1="122.9" x2="425.4" y2="122.9" stroke="#2b2b2b" stroke-width="0.9"/>
<text x="422.00" y="124.40" class="tlc" text-anchor="end">0</text>
<line x1="423.00" y1="103.0" x2="425.4" y2="103.0" stroke="#2b2b2b" stroke-width="0.9"/>
<text x="423.10" y="104.50" class="tlc" text-anchor="end">50</text>
<line x1="423.00" y1="83.0" x2="425.4" y2="83.0" stroke="#2b2b2b" stroke-width="0.9"/>
<text x="423.10" y="84.50" class="tlc" text-anchor="end">100</text>
<line x1="427.10" y1="125.50" x2="427.10" y2="128.40" stroke="#2b2b2b" stroke-width="0.9"/>
<line x1="454.43" y1="125.50" x2="454.43" y2="128.40" stroke="#2b2b2b" stroke-width="0.9"/>
<line x1="481.76" y1="125.50" x2="481.76" y2="128.40" stroke="#2b2b2b" stroke-width="0.9"/>
<line x1="509.09" y1="125.50" x2="509.09" y2="128.40" stroke="#2b2b2b" stroke-width="0.9"/>
<line x1="536.42" y1="125.50" x2="536.42" y2="128.40" stroke="#2b2b2b" stroke-width="0.9"/>
<text x="408.6" y="97.8" class="al" text-anchor="middle" transform="rotate(-90 408.6 97.8)">Y-axis</text>
<clipPath id="ccZ"><rect x="425.4" y="136.8" width="119.20" height="52.50"/></clipPath>
<rect x="426.7" y="185.75" width="8.60" height="1.5" fill="#45a0d2"/>
<path clip-path="url(#ccZ)" fill="#0678BD" d="M434.90,185.63 L435.65,185.63 L435.65,186.00 L436.15,186.00 L436.15,185.84 L436.65,185.84 L436.65,185.65 L437.40,185.65 L437.40,185.05 L438.15,185.05 L438.15,184.58 L438.65,184.58 L438.65,184.54 L439.40,184.54 L439.40,183.86 L439.90,183.86 L439.90,183.30 L440.65,183.30 L440.65,182.27 L441.15,182.27 L441.15,181.57 L441.90,181.57 L441.90,180.33 L442.40,180.33 L442.40,179.34 L443.15,179.34 L443.15,178.25 L443.65,178.25 L443.65,177.33 L444.15,177.33 L444.15,176.24 L444.65,176.24 L444.65,175.26 L445.40,175.26 L445.40,174.56 L446.15,174.56 L446.15,173.27 L446.90,173.27 L446.90,172.36 L447.65,172.36 L447.65,175.65 L448.40,175.65 L448.40,174.43 L448.50,174.43 L448.50,171.20 L449.15,171.20 L449.15,170.67 L450.10,170.67 L450.10,170.67 L450.40,170.67 L450.40,175.03 L450.90,175.03 L450.90,175.48 L451.65,175.48 L451.65,171.71 L451.70,171.71 L451.70,171.30 L452.65,171.30 L452.65,171.30 L453.30,171.30 L453.30,172.62 L453.65,172.62 L453.65,174.32 L454.65,174.32 L454.65,172.88 L455.40,172.88 L455.40,170.80 L456.65,170.80 L456.65,174.26 L457.15,174.26 L457.15,175.46 L458.15,175.46 L458.15,175.06 L459.40,175.06 L459.40,171.83 L460.40,171.83 L460.40,172.74 L461.15,172.74 L461.15,172.35 L462.15,172.35 L462.15,171.79 L463.40,171.79 L463.40,173.23 L463.90,173.23 L463.90,171.00 L464.10,171.00 L464.10,170.90 L464.90,170.90 L464.90,170.90 L465.65,170.90 L465.65,170.90 L465.70,170.90 L465.70,171.65 L466.15,171.65 L466.15,174.96 L466.20,174.96 L466.20,171.30 L466.90,171.30 L466.90,171.30 L467.65,171.30 L467.65,171.30 L467.80,171.30 L467.80,174.89 L468.65,174.89 L468.65,172.72 L469.90,172.72 L469.90,173.78 L470.65,173.78 L470.65,172.95 L471.90,172.95 L471.90,170.88 L472.50,170.88 L472.50,170.88 L473.15,170.88 L473.15,171.50 L473.65,171.50 L473.65,171.50 L474.10,171.50 L474.10,172.78 L474.90,172.78 L474.90,171.18 L476.15,171.18 L476.15,174.19 L476.20,174.19 L476.20,171.30 L477.40,171.30 L477.40,171.30 L477.80,171.30 L477.80,173.01 L477.90,173.01 L477.90,171.24 L479.15,171.24 L479.15,172.98 L480.15,172.98 L480.15,175.47 L480.90,175.47 L480.90,172.05 L481.40,172.05 L481.40,175.28 L481.70,175.28 L481.70,171.50 L482.40,171.50 L482.40,171.50 L483.30,171.50 L483.30,173.44 L483.40,173.44 L483.40,171.18 L483.90,171.18 L483.90,172.27 L484.40,172.27 L484.40,173.86 L485.25,173.86 L485.25,171.30 L485.40,171.30 L485.40,171.30 L486.65,171.30 L486.65,171.30 L486.75,171.30 L486.75,172.55 L487.40,172.55 L487.40,175.61 L488.65,175.61 L488.65,175.36 L489.15,175.36 L489.15,172.27 L490.15,172.27 L490.15,172.74 L490.25,172.74 L490.25,171.60 L490.65,171.60 L490.65,171.60 L491.75,171.60 L491.75,174.82 L491.90,174.82 L491.90,171.89 L492.40,171.89 L492.40,175.46 L493.40,175.46 L493.40,172.55 L494.65,172.55 L494.65,173.02 L495.15,173.02 L495.15,172.14 L495.65,172.14 L495.65,174.06 L496.25,174.06 L496.25,171.30 L496.65,171.30 L496.65,171.30 L497.65,171.30 L497.65,171.30 L497.75,171.30 L497.75,172.73 L498.65,172.73 L498.65,170.67 L499.40,170.67 L499.40,175.25 L500.40,175.25 L500.40,172.31 L501.40,172.31 L501.40,171.74 L502.15,171.74 L502.15,170.76 L502.25,170.76 L502.25,170.76 L502.65,170.76 L502.65,171.20 L503.15,171.20 L503.15,171.20 L503.65,171.20 L503.65,171.20 L503.75,171.20 L503.75,173.86 L504.15,173.86 L504.15,173.37 L505.40,173.37 L505.40,174.76 L505.90,174.76 L505.90,174.57 L506.25,174.57 L506.25,171.50 L506.90,171.50 L506.90,171.50 L507.65,171.50 L507.65,171.50 L507.75,171.50 L507.75,175.72 L508.65,175.72 L508.65,170.89 L509.15,170.89 L509.15,170.80 L510.25,170.80 L510.25,170.80 L510.40,170.80 L510.40,171.00 L510.90,171.00 L510.90,171.00 L511.75,171.00 L511.75,171.13 L511.90,171.13 L511.90,171.37 L513.15,171.37 L513.15,171.25 L513.65,171.25 L513.65,172.26 L513.75,172.26 L513.75,171.20 L514.40,171.20 L514.40,171.20 L515.15,171.20 L515.15,170.73 L515.25,170.73 L515.25,170.73 L516.15,170.73 L516.15,170.96 L517.15,170.96 L517.15,170.77 L517.65,170.77 L517.65,175.65 L518.65,175.65 L518.65,174.51 L519.25,174.51 L519.25,171.60 L519.90,171.60 L519.90,171.60 L520.75,171.60 L520.75,174.13 L521.15,174.13 L521.15,174.00 L522.15,174.00 L522.15,173.56 L522.65,173.56 L522.65,174.36 L523.65,174.36 L523.65,173.37 L524.90,173.37 L524.90,173.43 L525.25,173.43 L525.25,171.30 L525.90,171.30 L525.90,171.30 L526.75,171.30 L526.75,174.83 L526.90,174.83 L526.90,175.49 L527.40,175.49 L527.40,174.91 L528.65,174.91 L528.65,175.66 L529.40,175.66 L529.40,172.10 L530.15,172.10 L530.15,170.89 L530.25,170.89 L530.25,170.89 L530.65,170.89 L530.65,171.50 L531.65,171.50 L531.65,170.80 L531.75,170.80 L531.75,170.80 L532.90,170.80 L532.90,171.84 L533.90,171.84 L533.90,174.70 L535.15,174.70 L535.15,171.79 L535.25,171.79 L535.25,171.40 L535.65,171.40 L535.65,171.40 L536.75,171.40 L536.75,175.70 L536.90,175.70 L536.90,173.61 L537.65,173.61 L537.65,171.29 L538.65,171.29 L538.65,171.83 L539.90,171.83 L539.90,173.19 L540.90,173.19 L540.90,172.07 L541.25,172.07 L541.25,171.60 L541.90,171.60 L541.90,171.03 L542.65,171.03 L542.65,171.60 L542.75,171.60 L542.75,175.43 L543.15,175.43 L543.15,170.69 L544.15,170.69 L544.15,175.58 L544.30,175.58 L544.30,186.23 L543.30,186.23 L543.30,186.61 L542.80,186.61 L542.80,186.76 L541.80,186.76 L541.80,186.48 L540.80,186.48 L540.80,186.61 L539.30,186.61 L539.30,186.61 L538.80,186.61 L538.80,186.44 L537.80,186.44 L537.80,186.27 L536.80,186.27 L536.80,186.67 L535.80,186.67 L535.80,186.90 L534.30,186.90 L534.30,186.68 L533.80,186.68 L533.80,186.39 L533.30,186.39 L533.30,186.36 L532.80,186.36 L532.80,187.00 L531.30,187.00 L531.30,186.52 L529.80,186.52 L529.80,186.35 L529.30,186.35 L529.30,186.62 L528.80,186.62 L528.80,186.80 L527.80,186.80 L527.80,186.25 L527.30,186.25 L527.30,186.87 L526.80,186.87 L526.80,186.87 L525.80,186.87 L525.80,186.65 L525.30,186.65 L525.30,186.08 L524.30,186.08 L524.30,186.64 L523.80,186.64 L523.80,186.89 L522.30,186.89 L522.30,186.20 L521.30,186.20 L521.30,186.87 L520.80,186.87 L520.80,187.04 L520.30,187.04 L520.30,186.62 L519.80,186.62 L519.80,186.68 L518.30,186.68 L518.30,186.98 L517.80,186.98 L517.80,187.08 L517.30,187.08 L517.30,186.44 L515.80,186.44 L515.80,186.12 L514.80,186.12 L514.80,187.03 L513.80,187.03 L513.80,186.75 L512.80,186.75 L512.80,186.66 L512.30,186.66 L512.30,187.11 L511.80,187.11 L511.80,187.03 L511.30,187.03 L511.30,187.03 L510.30,187.03 L510.30,187.12 L509.30,187.12 L509.30,186.89 L508.80,186.89 L508.80,187.08 L508.30,187.08 L508.30,186.42 L506.80,186.42 L506.80,187.12 L506.30,187.12 L506.30,186.08 L505.80,186.08 L505.80,186.99 L504.30,186.99 L504.30,187.12 L502.80,187.12 L502.80,186.97 L501.30,186.97 L501.30,186.83 L500.30,186.83 L500.30,186.38 L499.30,186.38 L499.30,186.13 L498.80,186.13 L498.80,186.55 L498.30,186.55 L498.30,186.10 L496.80,186.10 L496.80,186.97 L496.30,186.97 L496.30,186.83 L494.80,186.83 L494.80,186.78 L493.30,186.78 L493.30,187.07 L491.80,187.07 L491.80,186.98 L490.80,186.98 L490.80,186.22 L489.30,186.22 L489.30,186.09 L488.30,186.09 L488.30,186.20 L487.30,186.20 L487.30,186.58 L486.30,186.58 L486.30,186.97 L485.80,186.97 L485.80,186.75 L484.30,186.75 L484.30,186.61 L483.80,186.61 L483.80,186.62 L482.80,186.62 L482.80,186.46 L481.80,186.46 L481.80,186.64 L480.80,186.64 L480.80,186.86 L480.30,186.86 L480.30,186.63 L478.80,186.63 L478.80,187.07 L477.80,187.07 L477.80,186.28 L477.30,186.28 L477.30,186.27 L476.80,186.27 L476.80,186.19 L475.30,186.19 L475.30,186.37 L474.30,186.37 L474.30,186.25 L473.80,186.25 L473.80,186.51 L472.30,186.51 L472.30,186.46 L471.30,186.46 L471.30,186.43 L469.80,186.43 L469.80,187.06 L468.30,187.06 L468.30,186.80 L466.80,186.80 L466.80,186.87 L466.30,186.87 L466.30,186.15 L465.80,186.15 L465.80,186.07 L465.30,186.07 L465.30,186.53 L463.80,186.53 L463.80,186.66 L462.80,186.66 L462.80,187.05 L461.30,187.05 L461.30,186.83 L460.80,186.83 L460.80,186.52 L459.30,186.52 L459.30,186.12 L458.80,186.12 L458.80,186.22 L457.30,186.22 L457.30,186.98 L455.80,186.98 L455.80,186.82 L454.80,186.82 L454.80,187.04 L454.30,187.04 L454.30,186.85 L453.30,186.85 L453.30,187.03 L451.80,187.03 L451.80,186.23 L451.30,186.23 L451.30,186.39 L449.80,186.39 L449.80,186.37 L448.80,186.37 L448.80,186.93 L447.80,186.93 L447.80,186.52 L446.30,186.52 L446.30,187.00 L445.80,187.00 L445.80,187.00 L445.30,187.00 L445.30,187.00 L444.30,187.00 L444.30,187.00 L442.80,187.00 L442.80,187.00 L441.30,187.00 L441.30,187.00 L439.80,187.00 L439.80,187.00 L439.30,187.00 L439.30,187.00 L438.30,187.00 L438.30,187.00 L437.30,187.00 L437.30,187.00 L436.30,187.00 L436.30,187.00 L435.30,187.00 L435.30,187.00 L434.90,187.00Z"/>
<path d="M424.95,136.8H544.6" stroke="#2b2b2b" stroke-width="0.9" fill="none"/>
<path d="M425.4,136.35V189.3" stroke="#8a8a8a" stroke-width="1.1" fill="none"/>
<path d="M544.6,136.35V189.3" stroke="#a0a0a0" stroke-width="1.1" fill="none"/>
<path d="M424.95,189.3H545.10" stroke="#555" stroke-width="1.1" fill="none"/>
<line x1="423.00" y1="186.7" x2="425.4" y2="186.7" stroke="#2b2b2b" stroke-width="0.9"/>
<text x="422.00" y="188.20" class="tlc" text-anchor="end">0</text>
<line x1="423.00" y1="166.8" x2="425.4" y2="166.8" stroke="#2b2b2b" stroke-width="0.9"/>
<text x="423.10" y="168.30" class="tlc" text-anchor="end">50</text>
<line x1="423.00" y1="146.5" x2="425.4" y2="146.5" stroke="#2b2b2b" stroke-width="0.9"/>
<text x="423.10" y="148.00" class="tlc" text-anchor="end">100</text>
<line x1="427.10" y1="189.60" x2="427.10" y2="192.50" stroke="#2b2b2b" stroke-width="0.9"/>
<text x="427.10" y="197.20" class="tlc" text-anchor="middle">0</text>
<line x1="454.43" y1="189.60" x2="454.43" y2="192.50" stroke="#2b2b2b" stroke-width="0.9"/>
<text x="454.43" y="197.20" class="tlc" text-anchor="middle">2500</text>
<line x1="481.76" y1="189.60" x2="481.76" y2="192.50" stroke="#2b2b2b" stroke-width="0.9"/>
<text x="481.76" y="197.20" class="tlc" text-anchor="middle">5000</text>
<line x1="509.09" y1="189.60" x2="509.09" y2="192.50" stroke="#2b2b2b" stroke-width="0.9"/>
<text x="509.09" y="197.20" class="tlc" text-anchor="middle">7500</text>
<line x1="536.42" y1="189.60" x2="536.42" y2="192.50" stroke="#2b2b2b" stroke-width="0.9"/>
<text x="535.22" y="197.20" class="tlc" text-anchor="middle">10000</text>
<text x="408.6" y="164.2" class="al" text-anchor="middle" transform="rotate(-90 408.6 164.2)">Z-axis</text>
<text x="481.2" y="204.0" class="al" text-anchor="middle">Frequency/Hz</text>
<text class="cap" x="77.8" y="247.9" text-anchor="middle">(<tspan font-weight="bold">a</tspan>)</text>
<text class="cap" x="274.5" y="247.9" text-anchor="middle">(<tspan font-weight="bold">b</tspan>)</text>
<text class="cap" x="471" y="247.9" text-anchor="middle">(<tspan font-weight="bold">c</tspan>)</text>
</svg>
</body></html>
